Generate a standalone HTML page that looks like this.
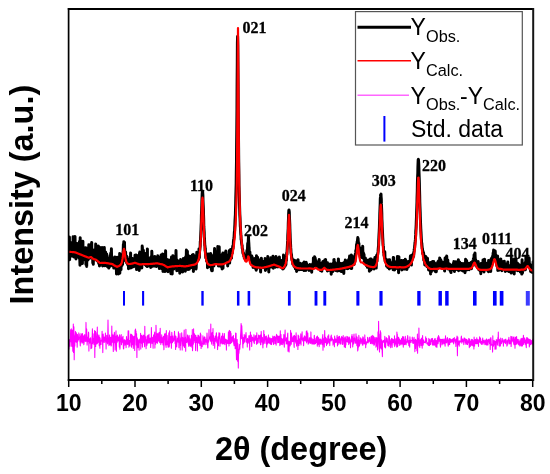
<!DOCTYPE html><html><head><meta charset="utf-8"><style>html,body{margin:0;padding:0;background:#fff;overflow:hidden}svg{display:block}</style></head><body><svg width="550" height="474" viewBox="0 0 550 474">
<rect width="550" height="474" fill="#fff"/>
<defs><clipPath id="c"><rect x="69" y="9" width="464" height="371"/></clipPath></defs>
<g clip-path="url(#c)" fill="none" stroke-linejoin="round">
<path d="M68.0,336.5L68.2,329.6 68.4,346.2 68.7,342.5 68.9,349.3 69.1,343.7 69.3,339.9 69.5,345.3 69.8,339.6 70.0,346.3 70.2,339.9 70.4,341.4 70.6,329.8 70.9,337.6 71.1,341.8 71.3,328.7 71.5,339.5 71.7,346.3 72.0,346.4 72.2,333.0 72.4,330.1 72.6,342.5 72.8,351.3 73.1,341.5 73.3,324.1 73.5,352.5 73.7,346.5 73.9,326.8 74.2,359.7 74.4,346.1 74.6,338.9 74.8,345.9 75.0,336.0 75.3,334.1 75.5,331.4 75.7,338.9 75.9,342.0 76.1,340.6 76.4,332.7 76.6,340.1 76.8,342.7 77.0,342.1 77.2,347.2 77.5,334.4 77.7,341.7 77.9,339.0 78.1,340.2 78.3,336.9 78.6,340.0 78.8,332.9 79.0,336.8 79.2,333.9 79.4,336.9 79.7,338.2 79.9,341.6 80.1,342.5 80.3,345.9 80.5,335.9 80.8,338.6 81.0,333.5 81.2,342.0 81.4,340.2 81.6,340.7 81.9,334.5 82.1,343.2 82.3,333.9 82.5,333.6 82.7,337.1 83.0,335.4 83.2,342.5 83.4,340.3 83.6,336.0 83.8,344.7 84.1,343.0 84.3,338.5 84.5,335.8 84.7,334.5 84.9,341.0 85.2,339.5 85.4,341.1 85.6,341.4 85.8,341.1 86.0,322.4 86.3,341.3 86.5,339.4 86.7,328.9 86.9,337.1 87.1,345.1 87.4,341.5 87.6,337.5 87.8,337.1 88.0,341.5 88.2,337.7 88.5,332.1 88.7,333.0 88.9,351.1 89.1,338.2 89.3,339.8 89.6,340.5 89.8,341.3 90.0,343.1 90.2,340.1 90.4,337.7 90.7,338.7 90.9,348.7 91.1,347.7 91.3,348.1 91.5,343.3 91.8,348.1 92.0,337.2 92.2,335.9 92.4,328.8 92.6,343.8 92.9,341.8 93.1,333.7 93.3,342.3 93.5,338.2 93.7,340.8 94.0,344.6 94.2,342.8 94.4,339.5 94.6,330.6 94.8,357.4 95.1,334.3 95.3,341.3 95.5,331.3 95.7,346.5 95.9,332.4 96.2,342.3 96.4,338.6 96.6,338.7 96.8,344.1 97.0,340.9 97.3,327.0 97.5,343.2 97.7,334.5 97.9,342.4 98.1,337.0 98.4,336.2 98.6,339.8 98.8,342.3 99.0,335.1 99.2,345.7 99.5,337.0 99.7,341.7 99.9,348.3 100.1,337.9 100.3,341.0 100.6,343.1 100.8,343.9 101.0,344.6 101.2,340.5 101.4,340.1 101.7,340.8 101.9,337.6 102.1,331.2 102.3,341.4 102.5,340.0 102.8,352.6 103.0,337.6 103.2,334.0 103.4,336.8 103.6,337.2 103.9,342.3 104.1,337.5 104.3,342.5 104.5,337.0 104.7,337.3 105.0,340.6 105.2,340.3 105.4,333.1 105.6,342.0 105.8,338.7 106.1,349.0 106.3,338.8 106.5,341.3 106.7,335.2 106.9,342.3 107.2,337.2 107.4,340.6 107.6,343.9 107.8,333.4 108.0,320.1 108.3,338.5 108.5,340.3 108.7,342.3 108.9,345.8 109.1,337.7 109.4,338.1 109.6,334.9 109.8,341.9 110.0,345.0 110.2,339.4 110.5,344.1 110.7,337.2 110.9,337.5 111.1,346.0 111.3,345.7 111.6,340.3 111.8,326.0 112.0,340.9 112.2,334.1 112.4,342.2 112.7,337.8 112.9,335.3 113.1,339.3 113.3,351.5 113.5,342.2 113.8,342.3 114.0,334.1 114.2,342.8 114.4,332.3 114.6,336.9 114.9,340.8 115.1,349.9 115.3,336.3 115.5,342.2 115.7,338.4 116.0,330.7 116.2,342.7 116.4,351.2 116.6,343.5 116.8,336.0 117.1,339.3 117.3,342.3 117.5,335.0 117.7,340.6 117.9,336.9 118.2,339.8 118.4,337.7 118.6,340.1 118.8,341.4 119.0,336.5 119.3,347.1 119.5,334.8 119.7,342.3 119.9,349.2 120.1,347.0 120.4,338.7 120.6,341.6 120.8,335.5 121.0,341.1 121.2,334.5 121.5,344.7 121.7,342.0 121.9,338.2 122.1,342.6 122.3,337.5 122.6,341.5 122.8,337.1 123.0,336.2 123.2,343.8 123.4,348.6 123.7,348.9 123.9,344.5 124.1,339.7 124.3,345.6 124.5,339.9 124.8,342.7 125.0,339.9 125.2,343.6 125.4,343.4 125.6,345.2 125.9,340.6 126.1,347.8 126.3,342.6 126.5,336.5 126.7,340.3 127.0,340.5 127.2,344.2 127.4,342.9 127.6,339.1 127.8,344.4 128.1,330.9 128.3,331.1 128.5,343.5 128.7,330.8 128.9,347.3 129.2,341.3 129.4,340.6 129.6,345.9 129.8,340.6 130.0,340.4 130.3,342.1 130.5,335.5 130.7,334.1 130.9,334.0 131.1,346.3 131.4,338.1 131.6,347.3 131.8,334.6 132.0,335.8 132.2,340.7 132.5,344.7 132.7,335.7 132.9,337.6 133.1,336.5 133.3,348.5 133.6,341.8 133.8,342.0 134.0,336.5 134.2,339.1 134.4,336.2 134.7,350.5 134.9,339.1 135.1,330.1 135.3,334.0 135.5,329.0 135.8,333.4 136.0,331.1 136.2,345.0 136.4,338.3 136.6,333.8 136.9,357.4 137.1,337.4 137.3,347.9 137.5,338.5 137.7,339.9 138.0,342.6 138.2,347.3 138.4,339.8 138.6,347.4 138.8,345.5 139.1,350.3 139.3,341.7 139.5,340.5 139.7,339.0 139.9,341.2 140.2,342.8 140.4,341.0 140.6,333.3 140.8,349.1 141.0,336.9 141.3,335.8 141.5,335.2 141.7,343.2 141.9,336.2 142.1,338.6 142.4,347.3 142.6,344.1 142.8,339.8 143.0,335.1 143.2,339.5 143.5,342.2 143.7,335.2 143.9,336.4 144.1,342.7 144.3,338.5 144.6,346.7 144.8,326.2 145.0,337.3 145.2,336.1 145.4,341.3 145.7,336.7 145.9,344.4 146.1,348.7 146.3,339.7 146.5,342.0 146.8,344.7 147.0,345.2 147.2,336.0 147.4,339.3 147.6,342.1 147.9,335.3 148.1,343.3 148.3,339.0 148.5,341.5 148.7,338.2 149.0,334.2 149.2,343.1 149.4,340.8 149.6,340.7 149.8,338.2 150.1,342.5 150.3,338.0 150.5,340.8 150.7,347.5 150.9,338.2 151.2,342.0 151.4,327.5 151.6,341.4 151.8,338.9 152.0,343.6 152.3,337.2 152.5,338.3 152.7,338.8 152.9,340.8 153.1,348.2 153.4,339.1 153.6,334.9 153.8,339.7 154.0,341.8 154.2,339.0 154.5,333.5 154.7,332.1 154.9,348.1 155.1,336.2 155.3,342.1 155.6,344.3 155.8,344.0 156.0,325.2 156.2,332.5 156.4,333.6 156.7,342.5 156.9,337.4 157.1,333.8 157.3,342.5 157.5,343.3 157.8,339.9 158.0,333.4 158.2,341.3 158.4,335.6 158.6,339.0 158.9,341.0 159.1,332.2 159.3,338.7 159.5,339.4 159.7,342.8 160.0,340.3 160.2,328.2 160.4,336.1 160.6,339.8 160.8,344.6 161.1,337.4 161.3,337.0 161.5,341.9 161.7,334.8 161.9,342.7 162.2,336.9 162.4,340.7 162.6,341.4 162.8,341.7 163.0,344.9 163.3,338.8 163.5,336.3 163.7,339.9 163.9,349.7 164.1,344.9 164.4,335.4 164.6,334.2 164.8,339.0 165.0,333.3 165.2,333.9 165.5,345.0 165.7,344.8 165.9,344.3 166.1,347.5 166.3,330.6 166.6,340.7 166.8,337.0 167.0,344.7 167.2,335.4 167.4,341.9 167.7,343.9 167.9,344.5 168.1,347.3 168.3,346.9 168.5,340.6 168.8,332.9 169.0,341.9 169.2,346.9 169.4,345.5 169.6,330.8 169.9,335.7 170.1,343.0 170.3,342.6 170.5,340.5 170.7,340.6 171.0,336.4 171.2,342.4 171.4,348.2 171.6,340.4 171.8,332.3 172.1,336.9 172.3,342.4 172.5,342.6 172.7,336.6 172.9,336.1 173.2,340.9 173.4,341.3 173.6,340.8 173.8,340.0 174.0,339.9 174.3,336.8 174.5,331.3 174.7,334.3 174.9,338.2 175.1,343.6 175.4,335.9 175.6,349.4 175.8,339.3 176.0,336.4 176.2,343.5 176.5,345.6 176.7,346.9 176.9,344.0 177.1,342.6 177.3,338.5 177.6,340.9 177.8,341.5 178.0,336.9 178.2,342.1 178.4,331.7 178.7,337.0 178.9,347.7 179.1,340.3 179.3,342.1 179.5,341.8 179.8,341.4 180.0,333.5 180.2,350.0 180.4,337.8 180.6,345.7 180.9,341.3 181.1,340.7 181.3,338.9 181.5,339.8 181.7,332.7 182.0,338.4 182.2,350.1 182.4,343.2 182.6,337.4 182.8,338.2 183.1,337.8 183.3,339.2 183.5,346.0 183.7,342.3 183.9,337.6 184.2,330.1 184.4,347.6 184.6,345.1 184.8,339.8 185.0,341.7 185.3,338.2 185.5,337.0 185.7,351.2 185.9,329.3 186.1,338.7 186.4,342.0 186.6,342.5 186.8,340.2 187.0,338.9 187.2,341.5 187.5,335.1 187.7,335.1 187.9,342.8 188.1,336.6 188.3,343.3 188.6,345.2 188.8,346.5 189.0,345.3 189.2,335.4 189.4,340.4 189.7,340.0 189.9,344.9 190.1,338.8 190.3,346.2 190.5,340.8 190.8,346.2 191.0,340.7 191.2,340.6 191.4,335.3 191.6,338.4 191.9,347.2 192.1,347.0 192.3,329.5 192.5,350.8 192.7,347.9 193.0,336.9 193.2,343.5 193.4,344.3 193.6,328.8 193.8,339.4 194.1,340.7 194.3,339.2 194.5,333.8 194.7,339.5 194.9,342.6 195.2,342.0 195.4,335.2 195.6,350.6 195.8,335.3 196.0,337.2 196.3,342.5 196.5,337.7 196.7,337.4 196.9,337.8 197.1,339.6 197.4,351.0 197.6,338.9 197.8,337.8 198.0,335.0 198.2,340.7 198.5,342.8 198.7,335.5 198.9,337.5 199.1,343.4 199.3,336.7 199.6,337.5 199.8,343.7 200.0,345.6 200.2,339.3 200.4,333.1 200.7,340.5 200.9,334.6 201.1,348.4 201.3,340.7 201.5,343.4 201.8,344.6 202.0,346.3 202.2,346.8 202.4,343.0 202.6,344.0 202.9,335.7 203.1,341.6 203.3,337.9 203.5,340.8 203.7,344.6 204.0,339.6 204.2,337.0 204.4,344.3 204.6,338.9 204.8,336.9 205.1,338.7 205.3,342.0 205.5,339.2 205.7,340.5 205.9,344.6 206.2,342.1 206.4,342.2 206.6,340.0 206.8,337.7 207.0,333.0 207.3,339.2 207.5,344.9 207.7,348.0 207.9,347.9 208.1,340.2 208.4,342.3 208.6,341.3 208.8,338.3 209.0,329.6 209.2,338.0 209.5,337.0 209.7,338.6 209.9,339.3 210.1,336.9 210.3,341.0 210.6,337.1 210.8,324.0 211.0,341.6 211.2,339.6 211.4,341.7 211.7,344.3 211.9,333.4 212.1,332.5 212.3,334.5 212.5,340.9 212.8,334.1 213.0,328.5 213.2,345.5 213.4,335.2 213.6,337.5 213.9,341.6 214.1,343.8 214.3,340.6 214.5,338.3 214.7,348.3 215.0,338.6 215.2,336.1 215.4,341.0 215.6,337.2 215.8,341.3 216.1,336.0 216.3,333.1 216.5,332.9 216.7,340.7 216.9,342.9 217.2,340.8 217.4,339.8 217.6,349.6 217.8,340.2 218.0,336.7 218.3,340.1 218.5,345.7 218.7,337.9 218.9,332.8 219.1,338.6 219.4,334.6 219.6,338.8 219.8,333.1 220.0,346.3 220.2,339.7 220.5,342.6 220.7,340.0 220.9,343.3 221.1,338.7 221.3,338.0 221.6,336.0 221.8,337.3 222.0,343.4 222.2,344.1 222.4,337.6 222.7,333.3 222.9,343.6 223.1,336.1 223.3,336.8 223.5,338.7 223.8,344.0 224.0,341.4 224.2,338.7 224.4,333.6 224.6,340.0 224.9,344.7 225.1,340.6 225.3,342.8 225.5,340.4 225.7,339.0 226.0,340.7 226.2,340.1 226.4,350.1 226.6,341.0 226.8,339.8 227.1,340.2 227.3,341.2 227.5,341.3 227.7,343.6 227.9,343.5 228.2,341.2 228.4,331.9 228.6,343.6 228.8,341.3 229.0,346.1 229.3,330.4 229.5,343.4 229.7,330.8 229.9,340.4 230.1,338.8 230.4,343.8 230.6,331.6 230.8,343.2 231.0,333.3 231.2,338.2 231.5,337.4 231.7,342.4 231.9,338.2 232.1,340.6 232.3,336.8 232.6,338.2 232.8,336.6 233.0,341.7 233.2,337.9 233.4,335.4 233.7,344.0 233.9,341.4 234.1,345.8 234.3,341.4 234.5,342.2 234.8,338.6 235.0,342.1 235.2,348.7 235.4,345.0 235.6,333.1 235.9,346.5 236.1,333.3 236.3,352.8 236.5,359.8 236.7,350.9 237.0,350.3 237.2,339.6 237.4,350.4 237.6,361.2 237.8,343.4 238.1,353.3 238.3,368.1 238.5,356.0 238.7,349.4 238.9,353.5 239.2,349.3 239.4,344.5 239.6,345.2 239.8,349.3 240.0,344.8 240.3,344.5 240.5,335.7 240.7,333.0 240.9,329.4 241.1,323.5 241.4,327.5 241.6,338.8 241.8,325.7 242.0,331.0 242.2,334.3 242.5,339.2 242.7,344.1 242.9,347.9 243.1,337.4 243.3,339.7 243.6,343.8 243.8,338.0 244.0,342.4 244.2,334.6 244.4,341.7 244.7,339.7 244.9,342.0 245.1,335.9 245.3,337.0 245.5,338.0 245.8,334.7 246.0,332.6 246.2,335.6 246.4,342.3 246.6,339.2 246.9,341.1 247.1,339.8 247.3,346.9 247.5,338.4 247.7,339.6 248.0,343.4 248.2,340.5 248.4,341.2 248.6,342.2 248.8,336.4 249.1,335.5 249.3,337.6 249.5,343.7 249.7,350.1 249.9,336.0 250.2,341.6 250.4,332.0 250.6,339.5 250.8,341.5 251.0,340.5 251.3,335.1 251.5,338.7 251.7,346.4 251.9,340.7 252.1,337.6 252.4,340.8 252.6,337.0 252.8,338.4 253.0,339.0 253.2,339.9 253.5,338.8 253.7,342.3 253.9,334.7 254.1,335.7 254.3,343.6 254.6,338.4 254.8,339.5 255.0,338.2 255.2,338.2 255.4,335.8 255.7,340.4 255.9,339.9 256.1,336.5 256.3,335.2 256.5,344.2 256.8,332.7 257.0,343.7 257.2,337.8 257.4,338.6 257.6,341.1 257.9,343.1 258.1,340.7 258.3,342.2 258.5,335.1 258.7,335.2 259.0,336.1 259.2,338.7 259.4,336.2 259.6,335.9 259.8,342.8 260.1,339.4 260.3,335.1 260.5,344.8 260.7,344.8 260.9,344.5 261.2,331.4 261.4,335.3 261.6,335.9 261.8,340.7 262.0,342.2 262.3,342.0 262.5,337.6 262.7,344.1 262.9,347.9 263.1,340.5 263.4,344.3 263.6,340.6 263.8,330.5 264.0,337.7 264.2,338.8 264.5,334.6 264.7,343.3 264.9,337.9 265.1,336.3 265.3,336.7 265.6,339.5 265.8,339.0 266.0,340.4 266.2,343.8 266.4,336.0 266.7,347.2 266.9,338.7 267.1,344.9 267.3,340.3 267.5,342.3 267.8,337.5 268.0,343.4 268.2,340.0 268.4,334.9 268.6,339.0 268.9,336.9 269.1,342.4 269.3,338.1 269.5,343.2 269.7,342.8 270.0,342.3 270.2,338.1 270.4,344.3 270.6,339.8 270.8,339.5 271.1,344.0 271.3,338.5 271.5,344.6 271.7,343.2 271.9,342.5 272.2,339.9 272.4,338.1 272.6,341.8 272.8,336.0 273.0,341.2 273.3,336.9 273.5,344.5 273.7,340.6 273.9,343.9 274.1,336.5 274.4,340.2 274.6,337.9 274.8,339.5 275.0,336.0 275.2,343.6 275.5,337.2 275.7,341.8 275.9,342.2 276.1,345.2 276.3,342.4 276.6,334.2 276.8,337.4 277.0,335.8 277.2,335.6 277.4,336.4 277.7,342.8 277.9,342.6 278.1,341.3 278.3,336.3 278.5,338.3 278.8,342.4 279.0,341.2 279.2,336.1 279.4,340.7 279.6,340.4 279.9,345.7 280.1,339.2 280.3,330.8 280.5,341.4 280.7,344.2 281.0,334.6 281.2,343.4 281.4,344.4 281.6,341.0 281.8,338.4 282.1,340.5 282.3,339.2 282.5,341.3 282.7,344.7 282.9,341.1 283.2,338.6 283.4,342.9 283.6,339.4 283.8,334.6 284.0,341.5 284.3,347.2 284.5,338.8 284.7,341.2 284.9,334.9 285.1,330.1 285.4,340.1 285.6,340.6 285.8,341.2 286.0,339.6 286.2,344.0 286.5,337.7 286.7,339.5 286.9,341.4 287.1,343.9 287.3,341.1 287.6,333.9 287.8,333.1 288.0,351.2 288.2,344.0 288.4,341.0 288.7,346.9 288.9,343.4 289.1,351.9 289.3,342.6 289.5,341.8 289.8,341.2 290.0,342.7 290.2,345.9 290.4,341.8 290.6,330.4 290.9,338.4 291.1,334.4 291.3,344.3 291.5,333.1 291.7,338.4 292.0,336.9 292.2,341.7 292.4,341.2 292.6,341.4 292.8,338.1 293.1,339.3 293.3,335.9 293.5,341.4 293.7,338.0 293.9,344.2 294.2,347.5 294.4,335.2 294.6,340.2 294.8,336.1 295.0,336.4 295.3,341.0 295.5,342.0 295.7,339.4 295.9,343.2 296.1,332.8 296.4,338.5 296.6,346.1 296.8,342.3 297.0,340.5 297.2,343.0 297.5,343.3 297.7,339.9 297.9,349.5 298.1,335.1 298.3,336.3 298.6,340.9 298.8,336.1 299.0,345.6 299.2,340.2 299.4,343.7 299.7,340.7 299.9,338.8 300.1,339.6 300.3,343.3 300.5,339.5 300.8,333.8 301.0,345.0 301.2,339.2 301.4,339.5 301.6,339.7 301.9,337.2 302.1,331.7 302.3,338.5 302.5,338.2 302.7,340.9 303.0,340.8 303.2,338.9 303.4,337.8 303.6,345.8 303.8,341.8 304.1,340.3 304.3,335.7 304.5,338.4 304.7,340.4 304.9,336.7 305.2,337.7 305.4,336.9 305.6,339.5 305.8,341.3 306.0,339.7 306.3,331.4 306.5,341.5 306.7,343.0 306.9,330.8 307.1,336.9 307.4,339.3 307.6,341.3 307.8,332.9 308.0,338.9 308.2,344.3 308.5,340.1 308.7,340.7 308.9,343.3 309.1,342.4 309.3,337.9 309.6,340.9 309.8,337.8 310.0,341.9 310.2,342.6 310.4,343.5 310.7,341.6 310.9,331.9 311.1,340.0 311.3,337.6 311.5,342.7 311.8,344.0 312.0,341.3 312.2,338.8 312.4,341.9 312.6,343.0 312.9,344.1 313.1,343.8 313.3,339.6 313.5,341.0 313.7,340.5 314.0,344.3 314.2,335.6 314.4,335.4 314.6,344.0 314.8,344.0 315.1,342.6 315.3,340.0 315.5,343.6 315.7,340.2 315.9,338.4 316.2,342.5 316.4,336.8 316.6,341.5 316.8,339.6 317.0,340.8 317.3,346.2 317.5,336.0 317.7,341.5 317.9,344.3 318.1,343.3 318.4,341.8 318.6,337.6 318.8,344.8 319.0,339.1 319.2,346.8 319.5,340.5 319.7,343.7 319.9,343.4 320.1,338.9 320.3,340.3 320.6,344.2 320.8,339.2 321.0,343.1 321.2,339.7 321.4,342.6 321.7,341.1 321.9,341.3 322.1,344.7 322.3,337.8 322.5,337.5 322.8,334.6 323.0,350.2 323.2,339.2 323.4,344.1 323.6,339.5 323.9,339.0 324.1,338.0 324.3,347.1 324.5,338.0 324.7,330.6 325.0,341.8 325.2,342.4 325.4,341.7 325.6,337.3 325.8,340.8 326.1,343.2 326.3,338.3 326.5,345.6 326.7,338.9 326.9,342.1 327.2,341.2 327.4,339.6 327.6,343.9 327.8,336.1 328.0,340.4 328.3,336.8 328.5,342.0 328.7,334.8 328.9,342.7 329.1,338.6 329.4,343.5 329.6,339.4 329.8,345.6 330.0,339.9 330.2,339.5 330.5,338.7 330.7,339.3 330.9,336.0 331.1,341.1 331.3,335.1 331.6,340.2 331.8,338.9 332.0,339.4 332.2,337.9 332.4,339.6 332.7,340.1 332.9,341.1 333.1,345.1 333.3,339.5 333.5,342.8 333.8,343.3 334.0,343.1 334.2,339.9 334.4,346.8 334.6,336.1 334.9,338.8 335.1,341.6 335.3,338.5 335.5,341.0 335.7,342.6 336.0,340.4 336.2,339.6 336.4,342.1 336.6,339.5 336.8,338.8 337.1,335.2 337.3,342.6 337.5,345.9 337.7,337.5 337.9,338.7 338.2,344.6 338.4,336.7 338.6,337.5 338.8,342.1 339.0,340.7 339.3,342.6 339.5,336.2 339.7,342.9 339.9,338.5 340.1,344.1 340.4,343.1 340.6,339.0 340.8,344.0 341.0,340.0 341.2,337.5 341.5,339.3 341.7,336.4 341.9,339.9 342.1,337.6 342.3,344.2 342.6,337.4 342.8,344.5 343.0,342.9 343.2,335.6 343.4,340.2 343.7,339.8 343.9,338.8 344.1,340.1 344.3,346.9 344.5,340.2 344.8,337.0 345.0,337.9 345.2,339.1 345.4,347.6 345.6,339.1 345.9,345.1 346.1,336.2 346.3,339.2 346.5,339.4 346.7,339.3 347.0,341.5 347.2,341.9 347.4,340.2 347.6,336.6 347.8,341.2 348.1,340.5 348.3,342.7 348.5,337.9 348.7,344.6 348.9,341.6 349.2,336.9 349.4,343.2 349.6,337.6 349.8,338.5 350.0,339.8 350.3,341.5 350.5,347.7 350.7,340.0 350.9,342.3 351.1,342.1 351.4,339.9 351.6,336.1 351.8,340.9 352.0,334.5 352.2,341.8 352.5,336.4 352.7,347.0 352.9,343.7 353.1,338.8 353.3,343.2 353.6,343.9 353.8,336.3 354.0,334.1 354.2,339.3 354.4,340.7 354.7,338.1 354.9,341.1 355.1,343.3 355.3,343.2 355.5,341.8 355.8,343.0 356.0,333.7 356.2,338.0 356.4,336.5 356.6,342.1 356.9,345.8 357.1,337.0 357.3,340.0 357.5,343.5 357.7,350.9 358.0,349.3 358.2,345.2 358.4,339.5 358.6,346.9 358.8,335.3 359.1,338.1 359.3,341.0 359.5,345.9 359.7,340.3 359.9,340.5 360.2,344.0 360.4,342.5 360.6,337.8 360.8,339.7 361.0,341.2 361.3,341.9 361.5,340.3 361.7,343.4 361.9,338.9 362.1,339.6 362.4,345.1 362.6,339.9 362.8,336.7 363.0,345.0 363.2,337.1 363.5,339.1 363.7,341.7 363.9,343.3 364.1,343.3 364.3,343.9 364.6,343.3 364.8,334.9 365.0,341.1 365.2,340.1 365.4,339.3 365.7,347.8 365.9,343.6 366.1,341.8 366.3,344.5 366.5,342.6 366.8,342.8 367.0,341.7 367.2,342.8 367.4,341.6 367.6,337.2 367.9,341.8 368.1,342.9 368.3,341.2 368.5,340.3 368.7,341.7 369.0,340.9 369.2,337.7 369.4,340.9 369.6,338.8 369.8,337.3 370.1,342.2 370.3,341.8 370.5,343.6 370.7,340.2 370.9,342.4 371.2,336.2 371.4,342.7 371.6,338.7 371.8,343.7 372.0,339.0 372.3,335.2 372.5,340.9 372.7,336.7 372.9,343.9 373.1,337.5 373.4,341.2 373.6,336.1 373.8,342.1 374.0,345.4 374.2,340.0 374.5,344.4 374.7,339.6 374.9,337.4 375.1,339.9 375.3,339.0 375.6,341.8 375.8,343.0 376.0,347.1 376.2,337.4 376.4,340.6 376.7,346.0 376.9,339.4 377.1,338.1 377.3,341.8 377.5,349.9 377.8,342.6 378.0,331.7 378.2,338.9 378.4,337.6 378.6,321.2 378.9,342.9 379.1,348.8 379.3,349.0 379.5,352.1 379.7,347.2 380.0,334.1 380.2,338.1 380.4,330.8 380.6,347.9 380.8,332.5 381.1,345.4 381.3,348.2 381.5,349.0 381.7,339.7 381.9,341.3 382.2,352.8 382.4,356.6 382.6,343.4 382.8,341.9 383.0,341.0 383.3,340.5 383.5,342.1 383.7,342.2 383.9,342.2 384.1,341.3 384.4,339.5 384.6,347.1 384.8,336.3 385.0,338.9 385.2,343.2 385.5,347.9 385.7,346.5 385.9,343.0 386.1,342.8 386.3,337.6 386.6,340.4 386.8,341.4 387.0,341.9 387.2,338.6 387.4,340.2 387.7,343.9 387.9,345.6 388.1,343.0 388.3,343.6 388.5,345.5 388.8,335.5 389.0,346.7 389.2,341.1 389.4,336.4 389.6,342.1 389.9,343.3 390.1,339.6 390.3,344.7 390.5,343.8 390.7,347.8 391.0,341.1 391.2,341.3 391.4,339.8 391.6,338.2 391.8,342.3 392.1,347.4 392.3,343.4 392.5,338.9 392.7,341.6 392.9,339.3 393.2,342.7 393.4,340.5 393.6,339.8 393.8,339.7 394.0,341.4 394.3,345.3 394.5,335.7 394.7,346.6 394.9,342.3 395.1,345.3 395.4,343.8 395.6,342.9 395.8,338.9 396.0,338.8 396.2,343.5 396.5,342.8 396.7,347.1 396.9,332.1 397.1,339.5 397.3,333.9 397.6,346.8 397.8,339.2 398.0,337.1 398.2,343.1 398.4,343.3 398.7,337.6 398.9,339.2 399.1,340.6 399.3,345.5 399.5,339.0 399.8,341.0 400.0,344.0 400.2,341.5 400.4,340.1 400.6,341.5 400.9,344.9 401.1,341.2 401.3,344.1 401.5,338.4 401.7,340.4 402.0,339.4 402.2,344.1 402.4,338.1 402.6,336.5 402.8,342.5 403.1,344.3 403.3,347.2 403.5,336.7 403.7,337.6 403.9,344.8 404.2,343.0 404.4,339.9 404.6,342.0 404.8,344.4 405.0,342.9 405.3,336.2 405.5,341.2 405.7,341.8 405.9,344.4 406.1,344.7 406.4,341.6 406.6,342.8 406.8,340.2 407.0,338.9 407.2,341.9 407.5,337.3 407.7,335.5 407.9,337.5 408.1,342.9 408.3,341.5 408.6,341.0 408.8,345.6 409.0,342.3 409.2,340.4 409.4,344.7 409.7,347.2 409.9,336.8 410.1,339.5 410.3,339.7 410.5,342.1 410.8,341.0 411.0,342.6 411.2,341.2 411.4,340.5 411.6,340.6 411.9,340.6 412.1,339.8 412.3,337.0 412.5,339.8 412.7,343.1 413.0,339.8 413.2,342.8 413.4,343.5 413.6,341.2 413.8,338.7 414.1,337.3 414.3,342.2 414.5,340.5 414.7,347.1 414.9,351.7 415.2,344.3 415.4,339.4 415.6,348.5 415.8,339.3 416.0,343.6 416.3,340.2 416.5,341.3 416.7,342.1 416.9,350.7 417.1,350.0 417.4,334.0 417.6,353.2 417.8,338.2 418.0,346.3 418.2,342.1 418.5,341.5 418.7,341.7 418.9,328.1 419.1,335.3 419.3,346.0 419.6,339.7 419.8,347.6 420.0,340.4 420.2,341.9 420.4,343.6 420.7,339.2 420.9,339.2 421.1,345.4 421.3,340.8 421.5,338.1 421.8,339.6 422.0,344.9 422.2,348.2 422.4,339.7 422.6,335.5 422.9,344.0 423.1,345.3 423.3,343.7 423.5,340.7 423.7,339.9 424.0,342.5 424.2,341.5 424.4,342.6 424.6,342.1 424.8,342.4 425.1,341.7 425.3,342.9 425.5,342.3 425.7,336.7 425.9,341.5 426.2,339.8 426.4,340.7 426.6,338.5 426.8,343.6 427.0,343.2 427.3,344.1 427.5,342.7 427.7,342.9 427.9,343.0 428.1,344.8 428.4,345.5 428.6,343.8 428.8,338.4 429.0,343.6 429.2,341.1 429.5,345.8 429.7,342.9 429.9,339.2 430.1,342.7 430.3,340.4 430.6,344.6 430.8,341.7 431.0,341.2 431.2,341.5 431.4,338.6 431.7,341.8 431.9,340.9 432.1,341.8 432.3,344.4 432.5,338.4 432.8,341.3 433.0,345.5 433.2,341.1 433.4,340.6 433.6,342.1 433.9,344.7 434.1,341.8 434.3,344.6 434.5,338.9 434.7,345.2 435.0,340.8 435.2,338.6 435.4,344.3 435.6,339.9 435.8,346.8 436.1,342.2 436.3,340.5 436.5,346.0 436.7,343.6 436.9,347.5 437.2,341.8 437.4,338.3 437.6,342.7 437.8,337.0 438.0,343.8 438.3,341.8 438.5,335.5 438.7,341.2 438.9,339.2 439.1,336.8 439.4,339.2 439.6,339.4 439.8,341.9 440.0,339.1 440.2,344.8 440.5,347.3 440.7,343.1 440.9,339.4 441.1,341.5 441.3,341.6 441.6,339.3 441.8,340.9 442.0,344.9 442.2,339.5 442.4,343.9 442.7,341.0 442.9,339.0 443.1,340.8 443.3,343.9 443.5,341.4 443.8,340.0 444.0,341.0 444.2,338.9 444.4,342.1 444.6,344.0 444.9,344.3 445.1,346.3 445.3,343.3 445.5,335.8 445.7,342.6 446.0,338.0 446.2,340.5 446.4,339.7 446.6,342.9 446.8,341.5 447.1,340.4 447.3,341.8 447.5,337.5 447.7,339.0 447.9,343.2 448.2,346.3 448.4,340.0 448.6,344.9 448.8,341.0 449.0,344.6 449.3,338.5 449.5,342.2 449.7,344.6 449.9,338.5 450.1,341.6 450.4,339.1 450.6,340.7 450.8,342.5 451.0,340.7 451.2,339.9 451.5,342.0 451.7,339.6 451.9,340.6 452.1,339.6 452.3,342.1 452.6,339.5 452.8,339.1 453.0,339.0 453.2,338.5 453.4,342.5 453.7,344.0 453.9,341.1 454.1,338.4 454.3,337.5 454.5,340.3 454.8,340.4 455.0,341.5 455.2,341.3 455.4,342.9 455.6,339.4 455.9,346.5 456.1,338.9 456.3,340.7 456.5,341.1 456.7,339.5 457.0,336.1 457.2,344.3 457.4,355.7 457.6,344.4 457.8,337.0 458.1,341.6 458.3,340.9 458.5,344.6 458.7,341.9 458.9,341.1 459.2,346.2 459.4,342.6 459.6,340.7 459.8,342.3 460.0,342.6 460.3,341.7 460.5,341.5 460.7,340.7 460.9,341.4 461.1,338.1 461.4,336.1 461.6,341.0 461.8,343.3 462.0,340.5 462.2,339.6 462.5,341.7 462.7,338.9 462.9,339.0 463.1,340.5 463.3,341.8 463.6,341.5 463.8,344.7 464.0,340.7 464.2,337.8 464.4,338.9 464.7,339.9 464.9,341.0 465.1,338.4 465.3,342.9 465.5,342.8 465.8,339.5 466.0,344.5 466.2,341.2 466.4,339.2 466.6,340.2 466.9,339.8 467.1,344.1 467.3,340.0 467.5,344.6 467.7,342.6 468.0,341.5 468.2,342.8 468.4,341.1 468.6,340.6 468.8,338.4 469.1,344.0 469.3,347.8 469.5,339.1 469.7,341.7 469.9,340.7 470.2,346.5 470.4,345.8 470.6,341.5 470.8,345.1 471.0,341.9 471.3,339.2 471.5,342.6 471.7,342.9 471.9,345.5 472.1,340.4 472.4,339.6 472.6,342.6 472.8,343.3 473.0,346.0 473.2,342.7 473.5,340.5 473.7,341.9 473.9,349.0 474.1,337.0 474.3,341.7 474.6,346.1 474.8,342.2 475.0,339.6 475.2,340.3 475.4,343.8 475.7,339.4 475.9,342.4 476.1,341.9 476.3,343.4 476.5,343.8 476.8,337.8 477.0,342.4 477.2,343.6 477.4,341.6 477.6,339.6 477.9,341.5 478.1,343.2 478.3,344.1 478.5,346.4 478.7,340.9 479.0,339.3 479.2,339.3 479.4,342.3 479.6,336.8 479.8,338.3 480.1,342.4 480.3,342.5 480.5,338.0 480.7,343.3 480.9,342.0 481.2,343.6 481.4,344.4 481.6,341.5 481.8,341.9 482.0,343.0 482.3,339.2 482.5,343.1 482.7,338.0 482.9,344.5 483.1,343.2 483.4,340.2 483.6,341.8 483.8,340.5 484.0,342.7 484.2,340.1 484.5,341.2 484.7,342.5 484.9,344.8 485.1,341.6 485.3,344.1 485.6,340.0 485.8,341.3 486.0,343.8 486.2,344.8 486.4,338.9 486.7,341.6 486.9,345.1 487.1,342.8 487.3,339.9 487.5,342.8 487.8,340.6 488.0,345.1 488.2,339.9 488.4,339.3 488.6,342.1 488.9,341.8 489.1,341.9 489.3,339.9 489.5,343.6 489.7,341.6 490.0,338.8 490.2,349.5 490.4,342.4 490.6,340.6 490.8,337.6 491.1,339.6 491.3,345.3 491.5,345.0 491.7,344.3 491.9,344.6 492.2,344.9 492.4,344.9 492.6,352.1 492.8,335.7 493.0,345.9 493.3,340.6 493.5,346.1 493.7,343.1 493.9,343.9 494.1,340.2 494.4,341.5 494.6,344.9 494.8,341.5 495.0,349.3 495.2,348.2 495.5,341.3 495.7,343.6 495.9,342.9 496.1,349.1 496.3,339.6 496.6,340.9 496.8,340.7 497.0,340.8 497.2,340.0 497.4,345.1 497.7,341.2 497.9,337.3 498.1,340.3 498.3,332.1 498.5,340.6 498.8,340.9 499.0,345.6 499.2,339.9 499.4,339.3 499.6,342.5 499.9,346.7 500.1,341.1 500.3,340.2 500.5,345.4 500.7,338.0 501.0,341.9 501.2,341.0 501.4,343.6 501.6,343.2 501.8,341.6 502.1,341.1 502.3,338.4 502.5,341.2 502.7,340.7 502.9,342.1 503.2,342.4 503.4,346.1 503.6,343.0 503.8,339.8 504.0,342.6 504.3,340.4 504.5,342.2 504.7,339.7 504.9,340.6 505.1,339.7 505.4,343.7 505.6,340.0 505.8,339.1 506.0,341.7 506.2,339.9 506.5,342.0 506.7,342.7 506.9,346.2 507.1,345.4 507.3,345.1 507.6,340.3 507.8,343.3 508.0,339.8 508.2,340.8 508.4,340.6 508.7,339.2 508.9,337.2 509.1,344.1 509.3,342.1 509.5,340.0 509.8,342.6 510.0,341.4 510.2,343.8 510.4,341.1 510.6,343.2 510.9,336.3 511.1,346.6 511.3,343.7 511.5,340.5 511.7,339.1 512.0,336.6 512.2,340.8 512.4,340.3 512.6,341.2 512.8,341.1 513.1,342.0 513.3,337.5 513.5,337.5 513.7,343.9 513.9,336.7 514.2,344.8 514.4,338.9 514.6,341.0 514.8,339.0 515.0,348.2 515.3,337.5 515.5,339.3 515.7,342.9 515.9,344.4 516.1,336.9 516.4,339.6 516.6,336.5 516.8,344.0 517.0,343.3 517.2,341.4 517.5,339.2 517.7,341.8 517.9,341.4 518.1,342.5 518.3,344.1 518.6,344.6 518.8,339.4 519.0,340.7 519.2,345.0 519.4,344.0 519.7,341.7 519.9,346.0 520.1,344.8 520.3,340.6 520.5,344.3 520.8,339.3 521.0,338.8 521.2,346.1 521.4,343.4 521.6,346.0 521.9,338.3 522.1,340.8 522.3,340.2 522.5,346.0 522.7,343.6 523.0,338.1 523.2,339.7 523.4,335.2 523.6,338.9 523.8,344.5 524.1,341.5 524.3,338.1 524.5,342.4 524.7,338.0 524.9,340.6 525.2,339.5 525.4,344.2 525.6,342.9 525.8,340.6 526.0,345.3 526.3,347.8 526.5,339.7 526.7,337.5 526.9,342.6 527.1,343.1 527.4,337.7 527.6,339.0 527.8,339.8 528.0,343.4 528.2,342.6 528.5,338.8 528.7,339.7 528.9,339.2 529.1,342.0 529.3,346.9 529.6,345.4 529.8,344.0 530.0,339.2 530.2,344.5 530.4,340.2 530.7,340.1 530.9,344.6 531.1,341.5 531.3,343.8 531.5,343.4 531.8,340.5 532.0,342.4 532.2,343.4 532.4,341.8 532.6,339.2 532.9,345.0 533.1,340.7 533.3,340.2 533.5,340.7 533.7,344.2 534.0,339.3" stroke="#ff00ff" stroke-width="1.05"/>
<path d="M68.0,252.4L68.2,258.8 68.3,258.1 68.5,249.6 68.6,250.7 68.8,249.6 69.0,254.9 69.1,251.8 69.3,255.7 69.4,237.1 69.6,259.7 69.8,251.6 69.9,255.4 70.1,251.4 70.2,250.2 70.4,254.3 70.6,256.1 70.7,251.0 70.9,251.3 71.0,255.3 71.2,247.7 71.4,244.6 71.5,253.9 71.7,248.7 71.8,242.5 72.0,248.0 72.2,249.6 72.3,246.1 72.5,244.6 72.6,252.1 72.8,256.3 73.0,250.7 73.1,236.8 73.3,253.8 73.4,255.4 73.6,250.4 73.8,254.5 73.9,257.0 74.1,250.8 74.2,247.8 74.4,239.4 74.6,253.0 74.7,257.2 74.9,245.4 75.0,236.6 75.2,247.7 75.4,243.3 75.5,252.5 75.7,254.6 75.8,248.3 76.0,258.9 76.2,256.1 76.3,255.2 76.5,254.1 76.6,256.9 76.8,245.6 77.0,255.3 77.1,255.3 77.3,243.5 77.4,254.1 77.6,251.2 77.8,256.4 77.9,250.3 78.1,252.4 78.2,254.3 78.4,248.3 78.6,255.7 78.7,252.1 78.9,255.2 79.0,250.2 79.2,258.2 79.4,255.8 79.5,241.4 79.7,256.1 79.8,259.3 80.0,265.3 80.2,237.8 80.3,257.5 80.5,255.5 80.6,252.7 80.8,248.3 81.0,259.5 81.1,247.1 81.3,256.2 81.4,259.8 81.6,245.6 81.8,252.0 81.9,247.2 82.1,254.8 82.2,261.0 82.4,263.6 82.6,245.1 82.7,251.1 82.9,241.3 83.0,253.5 83.2,256.0 83.4,250.4 83.5,255.4 83.7,253.9 83.8,253.1 84.0,250.6 84.2,256.0 84.3,255.7 84.5,253.8 84.6,253.3 84.8,248.3 85.0,252.1 85.1,260.1 85.3,253.6 85.4,247.7 85.6,260.8 85.8,257.1 85.9,264.5 86.1,254.9 86.2,252.6 86.4,248.0 86.6,260.9 86.7,266.4 86.9,251.0 87.0,251.9 87.2,257.7 87.4,251.1 87.5,253.7 87.7,253.3 87.8,255.8 88.0,259.9 88.2,255.0 88.3,258.9 88.5,252.8 88.6,255.9 88.8,244.8 89.0,247.5 89.1,257.6 89.3,251.0 89.4,255.9 89.6,255.2 89.8,258.2 89.9,255.4 90.1,255.7 90.2,250.3 90.4,247.1 90.6,246.5 90.7,247.2 90.9,244.4 91.0,246.9 91.2,249.1 91.4,250.7 91.5,248.6 91.7,242.4 91.8,251.1 92.0,252.8 92.2,257.2 92.3,255.5 92.5,250.8 92.6,250.9 92.8,262.9 93.0,257.8 93.1,262.7 93.3,264.3 93.4,251.8 93.6,257.1 93.8,257.6 93.9,258.1 94.1,258.1 94.2,256.8 94.4,256.7 94.6,249.8 94.7,255.4 94.9,253.1 95.0,256.7 95.2,254.4 95.4,258.9 95.5,259.7 95.7,244.0 95.8,257.7 96.0,256.8 96.2,254.7 96.3,256.0 96.5,254.8 96.6,258.5 96.8,257.1 97.0,246.7 97.1,251.8 97.3,261.0 97.4,254.3 97.6,254.6 97.8,256.9 97.9,255.5 98.1,259.0 98.2,255.7 98.4,246.1 98.6,254.8 98.7,263.5 98.9,258.5 99.0,253.8 99.2,258.7 99.4,252.5 99.5,265.9 99.7,247.2 99.8,260.9 100.0,261.3 100.2,247.4 100.3,260.3 100.5,263.1 100.6,261.0 100.8,260.2 101.0,262.9 101.1,259.9 101.3,260.5 101.4,258.7 101.6,261.7 101.8,255.5 101.9,262.3 102.1,257.2 102.2,247.5 102.4,260.7 102.6,265.9 102.7,263.0 102.9,257.2 103.0,262.0 103.2,257.5 103.4,258.8 103.5,259.6 103.7,250.2 103.8,260.0 104.0,255.2 104.2,256.6 104.3,247.5 104.5,253.4 104.6,255.6 104.8,262.5 105.0,265.8 105.1,259.2 105.3,263.7 105.4,258.4 105.6,252.0 105.8,260.1 105.9,261.3 106.1,257.8 106.2,260.8 106.4,261.9 106.6,256.3 106.7,254.0 106.9,259.0 107.0,259.0 107.2,258.5 107.4,263.7 107.5,266.7 107.7,258.4 107.8,262.7 108.0,263.7 108.2,262.9 108.3,264.3 108.5,258.7 108.6,263.1 108.8,268.1 109.0,263.4 109.1,257.9 109.3,262.8 109.4,265.3 109.6,261.8 109.8,258.3 109.9,266.5 110.1,255.7 110.2,262.6 110.4,260.5 110.6,256.0 110.7,253.2 110.9,262.1 111.0,256.2 111.2,263.1 111.4,248.8 111.5,253.5 111.7,258.3 111.8,262.0 112.0,263.5 112.2,261.7 112.3,261.4 112.5,263.1 112.6,260.6 112.8,266.1 113.0,262.2 113.1,262.9 113.3,263.9 113.4,257.9 113.6,259.3 113.8,268.1 113.9,263.6 114.1,261.3 114.2,263.8 114.4,260.6 114.6,263.7 114.7,260.3 114.9,263.9 115.0,257.0 115.2,268.3 115.4,261.2 115.5,257.2 115.7,262.5 115.8,262.0 116.0,264.1 116.2,259.3 116.3,265.3 116.5,274.0 116.6,259.0 116.8,265.4 117.0,263.1 117.1,264.9 117.3,257.2 117.4,259.7 117.6,266.0 117.8,264.0 117.9,270.4 118.1,261.4 118.2,264.6 118.4,274.0 118.6,260.7 118.7,260.3 118.9,263.5 119.0,263.5 119.2,266.8 119.4,263.8 119.5,260.6 119.7,253.4 119.8,273.2 120.0,268.0 120.2,254.2 120.3,262.4 120.5,259.8 120.6,265.2 120.8,262.0 121.0,269.6 121.1,265.7 121.3,265.6 121.4,262.6 121.6,261.5 121.8,262.6 121.9,265.6 122.1,262.4 122.2,258.7 122.4,263.2 122.6,264.3 122.7,256.9 122.9,253.1 123.0,252.3 123.2,250.6 123.4,244.2 123.5,248.2 123.7,245.3 123.8,241.8 124.0,243.5 124.2,243.2 124.3,245.0 124.5,242.3 124.6,248.6 124.8,252.3 125.0,257.2 125.1,259.9 125.3,260.6 125.4,254.5 125.6,252.0 125.8,261.3 125.9,260.1 126.1,259.8 126.2,260.2 126.4,261.8 126.6,255.9 126.7,262.9 126.9,260.0 127.0,262.9 127.2,263.4 127.4,261.3 127.5,263.1 127.7,262.0 127.8,264.9 128.0,264.0 128.2,260.0 128.3,259.7 128.5,268.8 128.6,261.8 128.8,266.0 129.0,263.8 129.1,260.2 129.3,259.2 129.4,262.6 129.6,263.1 129.8,264.6 129.9,257.3 130.1,259.9 130.2,261.8 130.4,268.0 130.6,253.1 130.7,263.6 130.9,259.9 131.0,263.6 131.2,260.1 131.4,263.2 131.5,267.7 131.7,263.1 131.8,263.4 132.0,263.1 132.2,258.8 132.3,263.7 132.5,260.8 132.6,258.5 132.8,261.4 133.0,260.6 133.1,264.3 133.3,261.2 133.4,259.3 133.6,266.8 133.8,264.9 133.9,266.0 134.1,263.4 134.2,260.6 134.4,259.4 134.6,259.9 134.7,264.6 134.9,261.3 135.0,255.2 135.2,260.8 135.4,255.6 135.5,261.6 135.7,256.6 135.8,256.4 136.0,261.6 136.2,260.9 136.3,255.0 136.5,264.2 136.6,269.6 136.8,255.9 137.0,268.3 137.1,258.9 137.3,259.7 137.4,260.9 137.6,256.1 137.8,266.6 137.9,263.6 138.1,258.8 138.2,260.8 138.4,256.1 138.6,260.6 138.7,265.5 138.9,255.5 139.0,260.3 139.2,270.5 139.4,266.0 139.5,253.0 139.7,260.3 139.8,252.0 140.0,263.7 140.2,260.5 140.3,260.6 140.5,265.7 140.6,267.9 140.8,262.3 141.0,260.4 141.1,254.4 141.3,253.3 141.4,260.0 141.6,255.7 141.8,268.1 141.9,261.3 142.1,258.6 142.2,246.1 142.4,247.8 142.6,259.1 142.7,250.6 142.9,253.0 143.0,258.2 143.2,258.6 143.4,250.3 143.5,260.2 143.7,262.2 143.8,258.5 144.0,258.0 144.2,261.8 144.3,253.5 144.5,260.2 144.6,264.1 144.8,255.8 145.0,264.6 145.1,259.5 145.3,253.4 145.4,261.0 145.6,257.9 145.8,262.9 145.9,257.3 146.1,265.7 146.2,259.1 146.4,263.3 146.6,259.7 146.7,260.8 146.9,266.5 147.0,262.9 147.2,260.6 147.4,248.9 147.5,266.4 147.7,264.9 147.8,260.9 148.0,263.1 148.2,258.2 148.3,258.3 148.5,259.0 148.6,263.5 148.8,263.2 149.0,259.3 149.1,264.9 149.3,265.1 149.4,262.8 149.6,266.0 149.8,261.0 149.9,261.7 150.1,263.9 150.2,262.0 150.4,265.1 150.6,257.4 150.7,267.4 150.9,259.2 151.0,261.4 151.2,256.8 151.4,264.3 151.5,266.9 151.7,266.1 151.8,251.3 152.0,256.1 152.2,259.0 152.3,260.3 152.5,258.5 152.6,266.1 152.8,262.6 153.0,261.8 153.1,263.8 153.3,258.4 153.4,258.4 153.6,258.6 153.8,263.8 153.9,263.1 154.1,264.0 154.2,265.9 154.4,256.7 154.6,259.7 154.7,262.4 154.9,256.6 155.0,259.8 155.2,265.6 155.4,265.9 155.5,265.8 155.7,261.8 155.8,260.9 156.0,265.8 156.2,260.2 156.3,263.0 156.5,266.6 156.6,260.3 156.8,259.3 157.0,261.6 157.1,263.9 157.3,263.5 157.4,262.3 157.6,263.8 157.8,255.7 157.9,258.5 158.1,262.4 158.2,258.4 158.4,256.9 158.6,257.4 158.7,258.5 158.9,261.3 159.0,258.2 159.2,263.0 159.4,268.6 159.5,261.6 159.7,267.0 159.8,263.4 160.0,258.0 160.2,261.3 160.3,258.6 160.5,265.2 160.6,258.1 160.8,267.4 161.0,264.7 161.1,254.9 161.3,265.5 161.4,268.4 161.6,259.6 161.8,266.3 161.9,255.8 162.1,263.6 162.2,256.4 162.4,264.6 162.6,256.0 162.7,253.9 162.9,264.3 163.0,271.5 163.2,260.7 163.4,266.2 163.5,263.6 163.7,262.1 163.8,265.8 164.0,269.8 164.2,258.9 164.3,265.9 164.5,265.1 164.6,258.5 164.8,270.1 165.0,271.6 165.1,260.7 165.3,271.0 165.4,264.7 165.6,250.7 165.8,270.3 165.9,265.6 166.1,266.1 166.2,270.7 166.4,269.9 166.6,268.6 166.7,259.9 166.9,259.4 167.0,269.7 167.2,262.0 167.4,266.3 167.5,261.6 167.7,265.1 167.8,260.8 168.0,271.8 168.2,261.8 168.3,265.1 168.5,264.9 168.6,270.1 168.8,260.1 169.0,265.3 169.1,264.6 169.3,267.4 169.4,267.3 169.6,263.6 169.8,266.2 169.9,263.9 170.1,267.0 170.2,264.9 170.4,262.7 170.6,265.0 170.7,266.5 170.9,273.7 171.0,263.2 171.2,266.2 171.4,270.5 171.5,257.0 171.7,258.2 171.8,260.3 172.0,264.3 172.2,274.0 172.3,266.2 172.5,269.2 172.6,263.9 172.8,255.7 173.0,255.8 173.1,268.5 173.3,265.4 173.4,267.4 173.6,268.8 173.8,258.7 173.9,268.9 174.1,258.8 174.2,261.6 174.4,260.4 174.6,267.7 174.7,260.3 174.9,267.7 175.0,259.9 175.2,267.5 175.4,264.8 175.5,262.7 175.7,260.8 175.8,265.2 176.0,250.4 176.2,263.3 176.3,262.8 176.5,266.8 176.6,259.5 176.8,270.8 177.0,263.0 177.1,259.9 177.3,269.4 177.4,270.5 177.6,263.4 177.8,260.7 177.9,264.2 178.1,261.4 178.2,262.8 178.4,269.9 178.6,265.5 178.7,264.4 178.9,265.4 179.0,263.7 179.2,267.2 179.4,267.3 179.5,262.6 179.7,264.2 179.8,273.2 180.0,265.5 180.2,263.2 180.3,271.8 180.5,263.8 180.6,259.6 180.8,266.3 181.0,260.4 181.1,262.0 181.3,265.2 181.4,263.4 181.6,261.0 181.8,261.7 181.9,261.7 182.1,268.5 182.2,261.3 182.4,261.8 182.6,271.9 182.7,261.8 182.9,269.7 183.0,269.1 183.2,263.4 183.4,258.5 183.5,265.8 183.7,266.6 183.8,267.9 184.0,264.3 184.2,268.5 184.3,269.4 184.5,259.9 184.6,269.5 184.8,264.8 185.0,261.8 185.1,262.7 185.3,271.2 185.4,267.9 185.6,257.0 185.8,264.4 185.9,263.4 186.1,263.3 186.2,261.9 186.4,249.9 186.6,266.9 186.7,260.0 186.9,262.1 187.0,261.3 187.2,260.9 187.4,251.2 187.5,265.1 187.7,260.7 187.8,259.7 188.0,269.6 188.2,267.2 188.3,263.8 188.5,264.1 188.6,261.9 188.8,262.3 189.0,263.9 189.1,256.0 189.3,269.3 189.4,260.0 189.6,260.7 189.8,268.0 189.9,263.8 190.1,263.0 190.2,260.6 190.4,256.6 190.6,263.4 190.7,267.2 190.9,259.3 191.0,267.7 191.2,258.1 191.4,259.6 191.5,264.3 191.7,262.2 191.8,264.9 192.0,259.4 192.2,258.4 192.3,255.1 192.5,257.7 192.6,257.9 192.8,256.6 193.0,263.4 193.1,259.6 193.3,254.4 193.4,271.5 193.6,258.8 193.8,257.0 193.9,266.6 194.1,266.2 194.2,257.4 194.4,256.1 194.6,257.8 194.7,265.7 194.9,260.3 195.0,258.6 195.2,261.1 195.4,265.8 195.5,255.7 195.7,259.4 195.8,255.7 196.0,269.0 196.2,267.5 196.3,263.9 196.5,260.2 196.6,262.1 196.8,252.2 197.0,261.0 197.1,255.1 197.3,255.1 197.4,256.6 197.6,257.4 197.8,260.2 197.9,260.4 198.1,258.8 198.2,254.4 198.4,256.2 198.6,256.4 198.7,259.3 198.9,252.9 199.0,248.9 199.2,252.5 199.4,257.8 199.5,252.5 199.7,250.4 199.8,250.1 200.0,247.7 200.2,246.1 200.3,241.6 200.5,241.1 200.6,237.6 200.8,233.2 201.0,229.0 201.1,225.9 201.3,221.9 201.4,215.4 201.6,210.8 201.8,205.0 201.9,200.7 202.1,196.3 202.2,193.4 202.4,191.4 202.6,191.1 202.7,192.4 202.9,195.5 203.0,200.9 203.2,205.3 203.4,209.1 203.5,213.6 203.7,219.9 203.8,226.2 204.0,229.0 204.2,232.0 204.3,236.8 204.5,238.6 204.6,241.6 204.8,245.3 205.0,246.0 205.1,250.9 205.3,248.1 205.4,252.3 205.6,254.9 205.8,257.9 205.9,257.6 206.1,256.4 206.2,253.4 206.4,257.1 206.6,261.1 206.7,255.7 206.9,260.6 207.0,259.1 207.2,260.2 207.4,259.0 207.5,267.7 207.7,258.0 207.8,260.7 208.0,261.7 208.2,262.5 208.3,253.9 208.5,262.7 208.6,264.4 208.8,255.2 209.0,261.1 209.1,256.5 209.3,261.8 209.4,257.0 209.6,257.6 209.8,261.1 209.9,266.7 210.1,263.6 210.2,262.7 210.4,255.0 210.6,257.6 210.7,253.4 210.9,259.8 211.0,260.4 211.2,266.0 211.4,269.7 211.5,256.2 211.7,270.8 211.8,267.4 212.0,264.5 212.2,262.8 212.3,270.8 212.5,261.5 212.6,259.1 212.8,266.4 213.0,255.5 213.1,262.7 213.3,260.6 213.4,262.2 213.6,262.2 213.8,256.4 213.9,265.9 214.1,256.8 214.2,264.1 214.4,254.2 214.6,248.5 214.7,257.3 214.9,260.6 215.0,257.7 215.2,251.3 215.4,255.8 215.5,260.4 215.7,262.6 215.8,258.9 216.0,251.6 216.2,256.7 216.3,259.4 216.5,257.5 216.6,257.0 216.8,263.6 217.0,254.1 217.1,263.2 217.3,256.5 217.4,260.6 217.6,259.2 217.8,246.6 217.9,263.7 218.1,260.7 218.2,258.6 218.4,266.0 218.6,263.5 218.7,263.8 218.9,265.3 219.0,256.0 219.2,246.8 219.4,258.8 219.5,264.3 219.7,257.5 219.8,260.7 220.0,262.0 220.2,266.2 220.3,265.5 220.5,263.9 220.6,259.7 220.8,264.0 221.0,262.6 221.1,260.0 221.3,265.6 221.4,262.3 221.6,257.5 221.8,265.3 221.9,259.5 222.1,268.9 222.2,254.5 222.4,260.3 222.6,256.7 222.7,256.5 222.9,253.1 223.0,268.2 223.2,259.7 223.4,261.1 223.5,264.2 223.7,259.7 223.8,262.0 224.0,255.0 224.2,260.5 224.3,258.5 224.5,261.8 224.6,260.6 224.8,254.6 225.0,252.8 225.1,256.0 225.3,262.3 225.4,261.0 225.6,261.0 225.8,252.0 225.9,251.0 226.1,256.7 226.2,257.8 226.4,256.7 226.6,260.2 226.7,258.1 226.9,254.7 227.0,255.8 227.2,258.9 227.4,258.9 227.5,258.0 227.7,266.0 227.8,257.3 228.0,258.4 228.2,255.2 228.3,257.3 228.5,259.3 228.6,259.9 228.8,257.6 229.0,259.0 229.1,257.5 229.3,251.8 229.4,250.6 229.6,263.1 229.8,259.5 229.9,257.0 230.1,251.6 230.2,252.7 230.4,259.5 230.6,249.5 230.7,254.6 230.9,256.7 231.0,254.6 231.2,255.6 231.4,253.4 231.5,258.1 231.7,250.4 231.8,249.7 232.0,252.2 232.2,253.3 232.3,249.3 232.5,249.6 232.6,247.4 232.8,245.9 233.0,248.6 233.1,247.0 233.3,246.3 233.4,241.9 233.6,239.9 233.8,238.7 233.9,238.0 234.1,237.0 234.2,234.8 234.4,231.6 234.6,231.0 234.7,227.7 234.9,224.1 235.0,221.0 235.2,217.7 235.4,214.3 235.5,209.7 235.7,203.4 235.8,197.6 236.0,190.8 236.2,183.2 236.3,173.3 236.5,161.4 236.6,147.3 236.8,129.2 237.0,108.4 237.1,86.2 237.3,62.4 237.4,43.1 237.6,36.4 237.8,45.1 237.9,61.8 238.1,84.3 238.2,109.1 238.4,128.2 238.6,147.5 238.7,161.4 238.9,174.2 239.0,185.6 239.2,192.3 239.4,198.6 239.5,203.7 239.7,210.4 239.8,214.6 240.0,217.9 240.2,222.2 240.3,226.1 240.5,227.8 240.6,230.9 240.8,234.2 241.0,235.7 241.1,239.4 241.3,239.8 241.4,241.0 241.6,243.2 241.8,244.3 241.9,245.2 242.1,245.4 242.2,248.2 242.4,248.6 242.6,249.5 242.7,249.7 242.9,253.1 243.0,253.1 243.2,253.8 243.4,252.8 243.5,253.2 243.7,254.5 243.8,256.1 244.0,255.0 244.2,256.1 244.3,258.1 244.5,257.7 244.6,255.1 244.8,256.7 245.0,256.7 245.1,258.3 245.3,255.8 245.4,257.6 245.6,258.8 245.8,257.7 245.9,255.4 246.1,256.2 246.2,257.1 246.4,257.1 246.6,257.6 246.7,254.5 246.9,250.5 247.0,255.7 247.2,251.7 247.4,250.9 247.5,248.4 247.7,243.4 247.8,243.6 248.0,242.6 248.2,242.3 248.3,240.4 248.5,236.6 248.6,240.5 248.8,242.8 249.0,246.8 249.1,247.7 249.3,253.0 249.4,253.6 249.6,254.9 249.8,256.2 249.9,251.9 250.1,258.2 250.2,258.9 250.4,256.4 250.6,260.4 250.7,260.1 250.9,258.4 251.0,259.9 251.2,260.0 251.4,261.8 251.5,260.2 251.7,263.2 251.8,256.0 252.0,260.9 252.2,257.0 252.3,260.8 252.5,263.6 252.6,262.5 252.8,262.5 253.0,263.0 253.1,267.5 253.3,259.9 253.4,265.8 253.6,258.8 253.8,262.0 253.9,263.8 254.1,261.1 254.2,264.3 254.4,260.7 254.6,260.5 254.7,263.7 254.9,262.9 255.0,258.5 255.2,263.7 255.4,261.6 255.5,268.2 255.7,261.6 255.8,269.3 256.0,262.9 256.2,270.3 256.3,266.1 256.5,255.7 256.6,266.8 256.8,267.1 257.0,268.6 257.1,262.2 257.3,263.6 257.4,261.0 257.6,257.2 257.8,263.6 257.9,266.8 258.1,265.6 258.2,265.0 258.4,263.6 258.6,262.7 258.7,263.7 258.9,265.9 259.0,259.7 259.2,267.2 259.4,260.6 259.5,264.4 259.7,263.1 259.8,264.0 260.0,261.9 260.2,261.7 260.3,264.5 260.5,262.1 260.6,272.1 260.8,263.8 261.0,263.2 261.1,263.6 261.3,262.2 261.4,258.3 261.6,264.5 261.8,266.1 261.9,266.1 262.1,265.2 262.2,261.7 262.4,265.1 262.6,266.4 262.7,266.7 262.9,266.5 263.0,263.0 263.2,267.6 263.4,263.8 263.5,266.1 263.7,267.1 263.8,264.2 264.0,261.3 264.2,266.6 264.3,261.9 264.5,262.5 264.6,261.7 264.8,267.1 265.0,264.3 265.1,258.5 265.3,266.9 265.4,270.5 265.6,269.7 265.8,263.1 265.9,264.8 266.1,266.0 266.2,267.0 266.4,264.7 266.6,261.6 266.7,266.5 266.9,266.2 267.0,260.9 267.2,263.4 267.4,265.0 267.5,264.4 267.7,265.8 267.8,256.4 268.0,265.6 268.2,263.9 268.3,260.5 268.5,265.7 268.6,267.8 268.8,271.9 269.0,263.8 269.1,263.9 269.3,267.7 269.4,267.7 269.6,264.6 269.8,265.7 269.9,261.8 270.1,265.1 270.2,261.5 270.4,263.2 270.6,263.2 270.7,262.3 270.9,257.8 271.0,261.3 271.2,264.3 271.4,263.1 271.5,267.1 271.7,264.4 271.8,265.0 272.0,265.3 272.2,261.0 272.3,263.0 272.5,262.0 272.6,260.8 272.8,259.0 273.0,256.2 273.1,260.4 273.3,268.3 273.4,262.3 273.6,262.1 273.8,261.4 273.9,267.3 274.1,260.1 274.2,262.1 274.4,260.7 274.6,262.4 274.7,262.6 274.9,265.6 275.0,259.0 275.2,262.9 275.4,267.2 275.5,261.8 275.7,262.7 275.8,260.8 276.0,256.6 276.2,263.0 276.3,266.3 276.5,262.1 276.6,258.7 276.8,264.3 277.0,263.9 277.1,258.2 277.3,266.0 277.4,263.2 277.6,264.9 277.8,259.4 277.9,266.9 278.1,264.6 278.2,266.7 278.4,266.6 278.6,258.0 278.7,263.7 278.9,261.9 279.0,259.1 279.2,264.1 279.4,257.0 279.5,261.8 279.7,266.4 279.8,265.1 280.0,265.9 280.2,263.3 280.3,260.5 280.5,267.1 280.6,266.9 280.8,265.0 281.0,264.2 281.1,264.8 281.3,265.3 281.4,264.3 281.6,260.5 281.8,267.7 281.9,261.8 282.1,265.1 282.2,265.2 282.4,266.6 282.6,261.8 282.7,269.0 282.9,267.7 283.0,268.0 283.2,268.8 283.4,263.8 283.5,255.0 283.7,266.3 283.8,268.2 284.0,267.5 284.2,263.5 284.3,264.4 284.5,264.9 284.6,259.9 284.8,262.0 285.0,261.9 285.1,266.3 285.3,261.2 285.4,265.2 285.6,261.5 285.8,257.5 285.9,264.8 286.1,257.4 286.2,259.7 286.4,260.5 286.6,255.1 286.7,252.9 286.9,254.8 287.0,252.4 287.2,248.5 287.4,245.3 287.5,243.2 287.7,240.4 287.8,235.6 288.0,231.9 288.2,228.3 288.3,222.7 288.5,218.5 288.6,214.8 288.8,210.7 289.0,210.0 289.1,210.6 289.3,212.0 289.4,215.8 289.6,220.2 289.8,224.6 289.9,228.7 290.1,233.7 290.2,237.6 290.4,241.3 290.6,244.9 290.7,247.4 290.9,249.9 291.0,253.3 291.2,253.2 291.4,256.0 291.5,254.5 291.7,258.2 291.8,258.6 292.0,259.9 292.2,258.8 292.3,258.6 292.5,260.6 292.6,260.7 292.8,264.1 293.0,262.0 293.1,260.1 293.3,264.5 293.4,262.3 293.6,264.5 293.8,262.6 293.9,260.6 294.1,266.4 294.2,265.4 294.4,261.6 294.6,260.2 294.7,263.6 294.9,262.2 295.0,264.2 295.2,266.5 295.4,268.8 295.5,264.6 295.7,268.6 295.8,268.2 296.0,264.6 296.2,261.7 296.3,267.7 296.5,267.1 296.6,271.4 296.8,269.1 297.0,267.4 297.1,269.9 297.3,263.5 297.4,260.4 297.6,265.5 297.8,269.9 297.9,267.3 298.1,259.8 298.2,269.2 298.4,264.1 298.6,268.1 298.7,265.1 298.9,266.9 299.0,267.6 299.2,266.8 299.4,264.2 299.5,269.7 299.7,267.3 299.8,266.5 300.0,268.1 300.2,265.2 300.3,263.2 300.5,267.2 300.6,267.5 300.8,267.3 301.0,264.4 301.1,263.8 301.3,266.9 301.4,267.3 301.6,269.6 301.8,267.5 301.9,264.0 302.1,267.7 302.2,268.4 302.4,268.9 302.6,267.3 302.7,263.8 302.9,269.2 303.0,264.8 303.2,267.9 303.4,262.9 303.5,268.3 303.7,264.8 303.8,269.0 304.0,270.6 304.2,262.1 304.3,267.8 304.5,264.5 304.6,264.6 304.8,268.0 305.0,267.3 305.1,267.0 305.3,267.3 305.4,268.0 305.6,268.1 305.8,270.5 305.9,266.4 306.1,267.0 306.2,262.3 306.4,266.9 306.6,265.0 306.7,263.8 306.9,267.0 307.0,268.9 307.2,265.6 307.4,265.5 307.5,265.5 307.7,266.8 307.8,265.3 308.0,267.4 308.2,267.1 308.3,267.3 308.5,268.2 308.6,266.5 308.8,266.8 309.0,270.4 309.1,266.4 309.3,268.2 309.4,266.5 309.6,265.4 309.8,265.4 309.9,264.6 310.1,266.4 310.2,265.1 310.4,265.5 310.6,269.1 310.7,266.1 310.9,268.9 311.0,267.1 311.2,268.4 311.4,265.2 311.5,266.8 311.7,272.3 311.8,268.3 312.0,268.9 312.2,267.1 312.3,268.4 312.5,264.0 312.6,264.5 312.8,267.4 313.0,268.3 313.1,265.6 313.3,265.9 313.4,258.1 313.6,265.7 313.8,263.5 313.9,262.8 314.1,265.6 314.2,261.7 314.4,263.1 314.6,256.7 314.7,262.2 314.9,264.5 315.0,262.6 315.2,258.1 315.4,260.5 315.5,260.8 315.7,263.0 315.8,262.4 316.0,260.6 316.2,262.4 316.3,262.5 316.5,262.7 316.6,266.4 316.8,262.5 317.0,264.7 317.1,265.3 317.3,264.4 317.4,262.8 317.6,267.0 317.8,266.5 317.9,266.3 318.1,266.5 318.2,266.5 318.4,264.9 318.6,267.6 318.7,263.3 318.9,267.1 319.0,267.8 319.2,259.6 319.4,268.8 319.5,266.9 319.7,266.5 319.8,268.5 320.0,267.0 320.2,266.8 320.3,266.6 320.5,270.6 320.6,268.8 320.8,268.4 321.0,264.9 321.1,268.6 321.3,264.6 321.4,268.3 321.6,264.9 321.8,271.3 321.9,263.3 322.1,269.5 322.2,268.4 322.4,262.6 322.6,265.7 322.7,268.8 322.9,267.9 323.0,261.5 323.2,263.5 323.4,261.7 323.5,261.4 323.7,261.7 323.8,266.6 324.0,262.2 324.2,261.4 324.3,261.0 324.5,263.0 324.6,263.4 324.8,260.0 325.0,265.6 325.1,260.5 325.3,263.1 325.4,265.0 325.6,259.6 325.8,264.1 325.9,266.2 326.1,268.6 326.2,267.5 326.4,268.7 326.6,268.9 326.7,267.5 326.9,268.3 327.0,269.3 327.2,267.3 327.4,270.9 327.5,262.8 327.7,265.3 327.8,270.7 328.0,268.4 328.2,266.1 328.3,268.4 328.5,270.1 328.6,266.2 328.8,269.4 329.0,267.4 329.1,267.5 329.3,267.5 329.4,270.3 329.6,265.2 329.8,266.8 329.9,269.4 330.1,265.0 330.2,264.1 330.4,269.0 330.6,267.8 330.7,267.3 330.9,268.0 331.0,265.4 331.2,274.3 331.4,265.2 331.5,266.5 331.7,264.4 331.8,270.2 332.0,271.1 332.2,267.5 332.3,263.9 332.5,266.3 332.6,271.7 332.8,267.9 333.0,264.5 333.1,269.3 333.3,266.4 333.4,268.8 333.6,267.6 333.8,267.8 333.9,259.6 334.1,259.5 334.2,263.7 334.4,269.5 334.6,267.0 334.7,267.9 334.9,266.0 335.0,262.4 335.2,264.1 335.4,270.5 335.5,265.2 335.7,266.2 335.8,263.6 336.0,265.8 336.2,266.0 336.3,266.3 336.5,266.8 336.6,265.4 336.8,265.5 337.0,266.8 337.1,267.8 337.3,266.4 337.4,271.1 337.6,267.4 337.8,267.3 337.9,265.2 338.1,269.2 338.2,264.1 338.4,258.9 338.6,264.3 338.7,268.1 338.9,263.7 339.0,269.8 339.2,266.5 339.4,262.9 339.5,265.9 339.7,270.8 339.8,264.4 340.0,263.2 340.2,267.7 340.3,269.6 340.5,268.8 340.6,265.6 340.8,266.7 341.0,267.0 341.1,269.1 341.3,271.6 341.4,265.9 341.6,269.3 341.8,265.2 341.9,267.5 342.1,263.6 342.2,264.0 342.4,267.0 342.6,263.6 342.7,268.1 342.9,264.4 343.0,265.9 343.2,265.5 343.4,264.9 343.5,266.0 343.7,268.4 343.8,273.4 344.0,262.5 344.2,266.3 344.3,265.1 344.5,263.1 344.6,266.1 344.8,263.1 345.0,265.0 345.1,268.4 345.3,260.1 345.4,265.8 345.6,266.3 345.8,262.6 345.9,266.6 346.1,265.9 346.2,264.0 346.4,268.0 346.6,261.4 346.7,266.5 346.9,264.2 347.0,262.0 347.2,268.7 347.4,263.8 347.5,266.7 347.7,260.7 347.8,264.0 348.0,263.2 348.2,268.5 348.3,261.4 348.5,266.9 348.6,259.8 348.8,265.2 349.0,259.2 349.1,264.9 349.3,262.1 349.4,258.9 349.6,256.0 349.8,267.4 349.9,264.2 350.1,261.4 350.2,265.9 350.4,261.4 350.6,261.5 350.7,260.1 350.9,266.3 351.0,268.4 351.2,260.6 351.4,255.1 351.5,257.7 351.7,268.5 351.8,256.4 352.0,262.9 352.2,264.1 352.3,258.4 352.5,263.3 352.6,262.5 352.8,263.8 353.0,260.2 353.1,262.8 353.3,259.6 353.4,262.9 353.6,261.2 353.8,259.4 353.9,256.6 354.1,264.4 354.2,262.5 354.4,261.3 354.6,257.1 354.7,257.1 354.9,261.7 355.0,258.8 355.2,254.2 355.4,255.5 355.5,254.8 355.7,252.9 355.8,250.6 356.0,253.9 356.2,251.5 356.3,249.4 356.5,245.2 356.6,244.3 356.8,244.6 357.0,244.5 357.1,241.8 357.3,242.7 357.4,241.3 357.6,239.5 357.8,237.6 357.9,239.1 358.1,238.6 358.2,240.6 358.4,242.3 358.6,244.7 358.7,243.7 358.9,243.3 359.0,249.7 359.2,248.0 359.4,248.4 359.5,252.5 359.7,247.4 359.8,253.0 360.0,253.2 360.2,256.8 360.3,256.2 360.5,251.8 360.6,257.1 360.8,250.5 361.0,253.3 361.1,254.4 361.3,251.5 361.4,253.8 361.6,253.3 361.8,255.8 361.9,254.1 362.1,249.2 362.2,254.3 362.4,257.8 362.6,249.7 362.7,246.2 362.9,255.0 363.0,252.0 363.2,254.3 363.4,256.2 363.5,253.0 363.7,257.9 363.8,258.7 364.0,254.3 364.2,258.3 364.3,261.7 364.5,258.9 364.6,260.8 364.8,261.7 365.0,259.4 365.1,263.0 365.3,261.8 365.4,258.0 365.6,262.6 365.8,263.6 365.9,263.6 366.1,259.8 366.2,263.1 366.4,265.7 366.6,262.9 366.7,265.5 366.9,266.0 367.0,262.3 367.2,264.5 367.4,267.3 367.5,265.9 367.7,262.6 367.8,261.5 368.0,262.8 368.2,262.9 368.3,264.3 368.5,264.3 368.6,259.9 368.8,261.6 369.0,264.5 369.1,264.9 369.3,263.8 369.4,271.2 369.6,266.9 369.8,263.5 369.9,265.7 370.1,267.7 370.2,264.8 370.4,259.1 370.6,264.2 370.7,264.4 370.9,270.0 371.0,259.0 371.2,268.7 371.4,263.5 371.5,266.7 371.7,263.2 371.8,264.9 372.0,267.5 372.2,264.5 372.3,267.3 372.5,264.2 372.6,263.3 372.8,263.8 373.0,263.2 373.1,264.1 373.3,268.4 373.4,261.1 373.6,259.8 373.8,264.4 373.9,269.0 374.1,267.0 374.2,268.0 374.4,267.6 374.6,262.5 374.7,264.2 374.9,257.5 375.0,262.2 375.2,265.2 375.4,259.7 375.5,258.1 375.7,259.8 375.8,263.7 376.0,265.0 376.2,268.1 376.3,265.0 376.5,258.1 376.6,255.5 376.8,259.8 377.0,261.3 377.1,255.1 377.3,256.4 377.4,255.3 377.6,254.7 377.8,253.3 377.9,252.9 378.1,251.2 378.2,249.3 378.4,247.1 378.6,245.8 378.7,241.2 378.9,237.4 379.0,235.1 379.2,231.6 379.4,227.0 379.5,222.9 379.7,218.0 379.8,213.5 380.0,208.6 380.2,203.5 380.3,198.9 380.5,196.9 380.6,194.7 380.8,194.5 381.0,194.1 381.1,196.8 381.3,198.8 381.4,203.9 381.6,208.2 381.8,213.0 381.9,219.0 382.1,222.5 382.2,226.6 382.4,230.4 382.6,234.5 382.7,237.3 382.9,240.2 383.0,243.3 383.2,245.5 383.4,246.3 383.5,252.2 383.7,251.9 383.8,250.4 384.0,255.6 384.2,255.6 384.3,255.9 384.5,258.1 384.6,255.9 384.8,251.8 385.0,258.4 385.1,259.8 385.3,261.7 385.4,258.4 385.6,259.6 385.8,262.1 385.9,260.5 386.1,260.8 386.2,262.8 386.4,259.6 386.6,266.3 386.7,260.3 386.9,262.8 387.0,261.7 387.2,261.2 387.4,264.9 387.5,265.8 387.7,267.4 387.8,265.3 388.0,262.5 388.2,266.3 388.3,259.9 388.5,264.3 388.6,265.6 388.8,265.8 389.0,261.1 389.1,260.1 389.3,269.0 389.4,263.0 389.6,259.8 389.8,261.0 389.9,264.5 390.1,268.1 390.2,264.7 390.4,267.9 390.6,265.4 390.7,266.2 390.9,267.5 391.0,263.8 391.2,265.7 391.4,263.8 391.5,263.0 391.7,266.8 391.8,262.6 392.0,265.5 392.2,262.9 392.3,264.8 392.5,263.5 392.6,268.2 392.8,265.3 393.0,265.0 393.1,269.7 393.3,257.6 393.4,261.8 393.6,257.4 393.8,264.8 393.9,266.1 394.1,267.0 394.2,265.8 394.4,262.6 394.6,270.0 394.7,265.7 394.9,264.0 395.0,261.7 395.2,266.0 395.4,263.4 395.5,263.8 395.7,265.7 395.8,265.6 396.0,262.7 396.2,268.6 396.3,262.1 396.5,261.6 396.6,265.9 396.8,265.4 397.0,265.2 397.1,263.8 397.3,265.1 397.4,256.5 397.6,260.1 397.8,267.1 397.9,261.9 398.1,264.3 398.2,267.0 398.4,264.9 398.6,272.8 398.7,260.9 398.9,256.7 399.0,265.1 399.2,259.5 399.4,264.2 399.5,261.0 399.7,268.2 399.8,262.1 400.0,264.2 400.2,267.4 400.3,263.0 400.5,263.5 400.6,266.4 400.8,264.1 401.0,265.5 401.1,262.2 401.3,264.7 401.4,261.9 401.6,260.6 401.8,270.0 401.9,266.3 402.1,267.5 402.2,262.4 402.4,264.9 402.6,264.3 402.7,261.0 402.9,266.3 403.0,263.0 403.2,264.3 403.4,260.5 403.5,267.8 403.7,267.0 403.8,265.9 404.0,267.4 404.2,269.0 404.3,268.2 404.5,264.1 404.6,265.7 404.8,265.1 405.0,261.7 405.1,269.1 405.3,259.2 405.4,265.1 405.6,264.3 405.8,260.3 405.9,265.2 406.1,265.7 406.2,264.4 406.4,262.3 406.6,265.5 406.7,267.1 406.9,269.4 407.0,268.3 407.2,266.0 407.4,265.8 407.5,267.5 407.7,261.7 407.8,262.2 408.0,264.7 408.2,264.6 408.3,267.0 408.5,265.8 408.6,263.6 408.8,263.3 409.0,262.1 409.1,261.4 409.3,261.2 409.4,264.1 409.6,261.2 409.8,261.5 409.9,262.1 410.1,260.4 410.2,261.2 410.4,256.0 410.6,261.9 410.7,259.9 410.9,261.1 411.0,261.2 411.2,256.3 411.4,265.1 411.5,259.6 411.7,259.4 411.8,255.3 412.0,259.9 412.2,259.0 412.3,257.3 412.5,258.0 412.6,259.1 412.8,255.9 413.0,254.3 413.1,257.1 413.3,255.4 413.4,253.5 413.6,256.5 413.8,253.3 413.9,252.0 414.1,250.9 414.2,249.2 414.4,248.6 414.6,247.8 414.7,245.9 414.9,244.1 415.0,242.5 415.2,241.3 415.4,239.9 415.5,237.3 415.7,234.4 415.8,230.9 416.0,228.5 416.2,224.7 416.3,221.4 416.5,216.5 416.6,212.1 416.8,207.2 417.0,201.6 417.1,196.5 417.3,190.8 417.4,183.5 417.6,176.9 417.8,173.2 417.9,167.4 418.1,162.0 418.2,159.9 418.4,159.4 418.6,161.3 418.7,162.8 418.9,167.9 419.0,172.1 419.2,177.2 419.4,184.0 419.5,188.8 419.7,196.0 419.8,202.0 420.0,207.3 420.2,212.3 420.3,216.6 420.5,221.4 420.6,224.4 420.8,228.7 421.0,232.2 421.1,234.0 421.3,238.1 421.4,239.4 421.6,242.7 421.8,243.1 421.9,244.6 422.1,246.7 422.2,248.6 422.4,248.3 422.6,250.4 422.7,253.6 422.9,250.9 423.0,251.9 423.2,253.8 423.4,252.7 423.5,252.6 423.7,254.2 423.8,260.1 424.0,258.6 424.2,259.1 424.3,258.7 424.5,255.8 424.6,260.6 424.8,264.9 425.0,259.1 425.1,262.6 425.3,260.6 425.4,260.3 425.6,262.3 425.8,256.6 425.9,265.2 426.1,260.8 426.2,259.7 426.4,261.9 426.6,263.7 426.7,264.3 426.9,263.4 427.0,266.8 427.2,265.0 427.4,263.5 427.5,258.3 427.7,264.0 427.8,264.3 428.0,263.0 428.2,263.4 428.3,266.4 428.5,267.8 428.6,269.9 428.8,268.1 429.0,264.2 429.1,266.6 429.3,263.1 429.4,267.5 429.6,267.1 429.8,265.0 429.9,266.4 430.1,266.0 430.2,265.1 430.4,262.5 430.6,273.9 430.7,268.6 430.9,269.3 431.0,267.1 431.2,266.0 431.4,271.8 431.5,265.7 431.7,267.7 431.8,266.5 432.0,268.3 432.2,266.5 432.3,268.0 432.5,264.0 432.6,261.6 432.8,269.9 433.0,264.1 433.1,268.8 433.3,270.0 433.4,267.8 433.6,269.0 433.8,261.6 433.9,267.0 434.1,263.7 434.2,263.5 434.4,267.6 434.6,269.4 434.7,263.2 434.9,264.1 435.0,265.2 435.2,266.4 435.4,263.4 435.5,271.7 435.7,267.8 435.8,265.7 436.0,265.2 436.2,271.8 436.3,271.5 436.5,265.4 436.6,267.0 436.8,269.2 437.0,263.5 437.1,264.9 437.3,268.9 437.4,264.1 437.6,264.4 437.8,262.1 437.9,263.3 438.1,266.4 438.2,262.7 438.4,261.1 438.6,262.2 438.7,267.4 438.9,263.5 439.0,261.4 439.2,262.8 439.4,263.2 439.5,262.2 439.7,257.9 439.8,262.8 440.0,261.6 440.2,264.1 440.3,259.5 440.5,265.2 440.6,262.1 440.8,259.8 441.0,266.7 441.1,263.0 441.3,265.3 441.4,264.4 441.6,267.3 441.8,267.6 441.9,268.0 442.1,267.1 442.2,262.3 442.4,262.1 442.6,266.3 442.7,263.9 442.9,267.1 443.0,266.2 443.2,262.8 443.4,263.5 443.5,263.1 443.7,263.6 443.8,264.9 444.0,266.8 444.2,268.1 444.3,262.5 444.5,263.1 444.6,271.1 444.8,265.7 445.0,264.0 445.1,258.0 445.3,260.5 445.4,262.6 445.6,260.7 445.8,266.3 445.9,261.9 446.1,262.6 446.2,259.6 446.4,260.0 446.6,261.0 446.7,256.0 446.9,262.7 447.0,264.3 447.2,264.3 447.4,266.4 447.5,261.6 447.7,265.4 447.8,260.1 448.0,268.9 448.2,265.1 448.3,266.4 448.5,264.2 448.6,267.0 448.8,267.2 449.0,265.1 449.1,265.5 449.3,266.4 449.4,267.8 449.6,264.1 449.8,268.7 449.9,266.0 450.1,270.8 450.2,269.9 450.4,265.9 450.6,265.5 450.7,272.0 450.9,268.2 451.0,272.6 451.2,265.8 451.4,266.6 451.5,268.5 451.7,268.2 451.8,265.2 452.0,269.6 452.2,267.5 452.3,264.9 452.5,269.0 452.6,266.6 452.8,268.7 453.0,265.8 453.1,267.7 453.3,263.5 453.4,267.8 453.6,263.6 453.8,267.3 453.9,261.6 454.1,266.9 454.2,268.6 454.4,271.5 454.6,269.6 454.7,264.7 454.9,270.3 455.0,264.4 455.2,264.4 455.4,265.4 455.5,265.9 455.7,267.0 455.8,267.5 456.0,261.7 456.2,268.3 456.3,266.5 456.5,264.8 456.6,262.0 456.8,266.2 457.0,269.4 457.1,268.1 457.3,266.3 457.4,269.5 457.6,268.8 457.8,266.1 457.9,268.1 458.1,265.9 458.2,268.3 458.4,259.7 458.6,270.8 458.7,267.6 458.9,267.4 459.0,267.8 459.2,265.1 459.4,266.8 459.5,265.6 459.7,262.1 459.8,263.2 460.0,268.5 460.2,266.2 460.3,266.6 460.5,263.9 460.6,265.7 460.8,268.7 461.0,267.3 461.1,266.0 461.3,270.3 461.4,266.9 461.6,266.3 461.8,269.4 461.9,263.4 462.1,268.3 462.2,264.7 462.4,265.4 462.6,265.6 462.7,267.4 462.9,271.0 463.0,267.7 463.2,267.4 463.4,269.9 463.5,270.6 463.7,268.6 463.8,263.4 464.0,266.2 464.2,264.7 464.3,268.3 464.5,267.2 464.6,268.9 464.8,263.2 465.0,272.7 465.1,264.4 465.3,267.2 465.4,269.2 465.6,259.3 465.8,265.8 465.9,262.8 466.1,264.0 466.2,262.9 466.4,267.1 466.6,260.4 466.7,266.4 466.9,269.6 467.0,269.9 467.2,267.0 467.4,266.5 467.5,266.3 467.7,265.9 467.8,263.1 468.0,267.4 468.2,266.2 468.3,266.2 468.5,268.1 468.6,266.1 468.8,267.5 469.0,266.7 469.1,269.7 469.3,269.2 469.4,263.6 469.6,266.3 469.8,268.1 469.9,265.5 470.1,268.2 470.2,267.2 470.4,267.7 470.6,265.9 470.7,266.8 470.9,266.9 471.0,262.6 471.2,263.7 471.4,263.1 471.5,268.7 471.7,265.4 471.8,265.4 472.0,264.4 472.2,263.0 472.3,261.7 472.5,264.5 472.6,261.4 472.8,265.1 473.0,261.6 473.1,260.7 473.3,259.7 473.4,258.8 473.6,258.3 473.8,260.6 473.9,261.1 474.1,254.8 474.2,254.6 474.4,261.1 474.6,254.8 474.7,255.1 474.9,256.2 475.0,253.1 475.2,258.8 475.4,258.3 475.5,259.0 475.7,260.0 475.8,261.1 476.0,265.9 476.2,262.2 476.3,263.9 476.5,262.1 476.6,264.3 476.8,263.4 477.0,264.2 477.1,262.8 477.3,263.5 477.4,266.5 477.6,267.4 477.8,267.2 477.9,265.1 478.1,267.0 478.2,261.5 478.4,268.7 478.6,266.8 478.7,267.9 478.9,269.8 479.0,266.5 479.2,269.3 479.4,266.5 479.5,268.7 479.7,266.7 479.8,268.3 480.0,270.7 480.2,266.5 480.3,266.5 480.5,267.1 480.6,268.6 480.8,273.7 481.0,266.8 481.1,263.5 481.3,266.5 481.4,264.6 481.6,266.7 481.8,268.0 481.9,266.0 482.1,266.6 482.2,264.1 482.4,268.3 482.6,266.5 482.7,270.4 482.9,270.2 483.0,259.9 483.2,267.3 483.4,268.1 483.5,269.6 483.7,264.5 483.8,267.8 484.0,271.9 484.2,267.9 484.3,268.5 484.5,268.1 484.6,259.2 484.8,270.1 485.0,268.6 485.1,268.3 485.3,269.6 485.4,269.7 485.6,264.0 485.8,269.2 485.9,266.9 486.1,268.3 486.2,266.5 486.4,266.1 486.6,269.9 486.7,268.0 486.9,267.4 487.0,267.4 487.2,268.0 487.4,267.9 487.5,262.9 487.7,265.8 487.8,267.2 488.0,269.3 488.2,270.6 488.3,265.6 488.5,271.7 488.6,260.6 488.8,268.5 489.0,266.3 489.1,266.0 489.3,270.2 489.4,266.7 489.6,267.0 489.8,269.6 489.9,270.5 490.1,263.6 490.2,266.1 490.4,266.4 490.6,270.2 490.7,271.4 490.9,265.8 491.0,266.3 491.2,258.8 491.4,267.4 491.5,264.1 491.7,265.9 491.8,262.2 492.0,257.8 492.2,259.7 492.3,262.2 492.5,262.7 492.6,256.1 492.8,255.8 493.0,258.7 493.1,253.1 493.3,256.9 493.4,254.3 493.6,250.0 493.8,254.6 493.9,251.6 494.1,253.9 494.2,251.7 494.4,250.6 494.6,250.8 494.7,251.6 494.9,251.7 495.0,251.9 495.2,251.0 495.4,254.5 495.5,254.6 495.7,259.3 495.8,257.5 496.0,257.5 496.2,257.8 496.3,260.9 496.5,260.4 496.6,259.8 496.8,265.2 497.0,266.1 497.1,262.4 497.3,261.3 497.4,266.4 497.6,256.0 497.8,270.5 497.9,264.6 498.1,267.2 498.2,262.6 498.4,265.1 498.6,267.5 498.7,259.6 498.9,263.9 499.0,270.2 499.2,266.2 499.4,264.1 499.5,263.1 499.7,263.5 499.8,266.6 500.0,261.6 500.2,263.0 500.3,260.9 500.5,265.2 500.6,262.0 500.8,258.9 501.0,263.4 501.1,261.3 501.3,264.0 501.4,265.0 501.6,260.9 501.8,265.2 501.9,270.7 502.1,263.8 502.2,266.2 502.4,262.4 502.6,266.6 502.7,264.6 502.9,267.8 503.0,266.3 503.2,264.3 503.4,262.1 503.5,266.6 503.7,265.1 503.8,267.5 504.0,265.4 504.2,268.4 504.3,261.2 504.5,266.9 504.6,269.2 504.8,265.1 505.0,269.9 505.1,263.6 505.3,271.4 505.4,268.4 505.6,267.3 505.8,266.4 505.9,269.3 506.1,267.7 506.2,267.6 506.4,270.2 506.6,267.2 506.7,267.6 506.9,269.0 507.0,270.4 507.2,267.8 507.4,268.5 507.5,268.2 507.7,269.7 507.8,261.9 508.0,266.2 508.2,267.9 508.3,268.0 508.5,269.5 508.6,271.4 508.8,268.1 509.0,268.7 509.1,270.6 509.3,265.5 509.4,266.6 509.6,267.3 509.8,268.2 509.9,268.7 510.1,267.2 510.2,272.0 510.4,266.8 510.6,267.9 510.7,270.6 510.9,269.9 511.0,268.2 511.2,273.1 511.4,270.0 511.5,258.7 511.7,269.6 511.8,266.3 512.0,268.5 512.2,264.7 512.3,266.4 512.5,260.0 512.6,271.0 512.8,267.3 513.0,268.9 513.1,266.3 513.3,267.9 513.4,267.7 513.6,266.5 513.8,270.1 513.9,264.7 514.1,269.6 514.2,274.0 514.4,259.0 514.6,268.3 514.7,264.9 514.9,268.1 515.0,264.5 515.2,262.8 515.4,267.1 515.5,264.3 515.7,265.4 515.8,264.7 516.0,259.2 516.2,270.0 516.3,267.4 516.5,265.7 516.6,266.4 516.8,268.5 517.0,263.0 517.1,269.4 517.3,269.0 517.4,263.0 517.6,270.7 517.8,264.6 517.9,267.6 518.1,270.6 518.2,264.6 518.4,264.2 518.6,265.7 518.7,265.8 518.9,267.8 519.0,266.9 519.2,267.0 519.4,267.0 519.5,267.7 519.7,266.2 519.8,268.7 520.0,268.0 520.2,265.9 520.3,272.0 520.5,265.2 520.6,269.6 520.8,266.4 521.0,268.8 521.1,269.1 521.3,269.8 521.4,271.0 521.6,266.1 521.8,274.1 521.9,268.8 522.1,259.7 522.2,264.9 522.4,273.0 522.6,271.5 522.7,267.9 522.9,269.5 523.0,270.6 523.2,268.1 523.4,266.8 523.5,267.7 523.7,269.5 523.8,267.7 524.0,264.8 524.2,268.9 524.3,263.6 524.5,265.5 524.6,269.7 524.8,267.3 525.0,267.1 525.1,266.5 525.3,268.3 525.4,269.8 525.6,261.5 525.8,265.5 525.9,256.8 526.1,260.1 526.2,267.2 526.4,265.6 526.6,262.1 526.7,262.4 526.9,262.4 527.0,264.0 527.2,259.7 527.4,259.8 527.5,259.7 527.7,261.4 527.8,261.7 528.0,260.9 528.2,263.4 528.3,260.3 528.5,262.3 528.6,261.8 528.8,261.7 529.0,266.7 529.1,258.0 529.3,262.9 529.4,265.7 529.6,263.8 529.8,267.6 529.9,268.2 530.1,269.0 530.2,264.7 530.4,266.9 530.6,271.4 530.7,267.2 530.9,270.6 531.0,271.2 531.2,265.2 531.4,270.8 531.5,269.9 531.7,270.4 531.8,272.2 532.0,269.6 532.2,268.9 532.3,270.1 532.5,268.0 532.6,269.9 532.8,264.5 533.0,272.6 533.1,261.8 533.3,270.3 533.4,269.7 533.6,269.3 533.8,269.3 533.9,269.3" stroke="#000" stroke-width="3.0"/>
<path d="M68.0,251.7L68.2,251.7 68.5,251.7 68.8,251.8 69.0,251.8 69.2,251.8 69.5,251.8 69.8,251.9 70.0,251.9 70.2,251.9 70.5,251.9 70.8,251.9 71.0,252.0 71.2,252.0 71.5,252.0 71.8,252.0 72.0,252.0 72.2,252.1 72.5,252.1 72.8,252.1 73.0,252.1 73.2,252.2 73.5,252.2 73.8,252.2 74.0,252.2 74.2,252.2 74.5,252.3 74.8,252.3 75.0,252.3 75.2,252.4 75.5,252.5 75.8,252.6 76.0,252.7 76.2,252.8 76.5,252.9 76.8,253.0 77.0,253.1 77.2,253.2 77.5,253.3 77.8,253.4 78.0,253.5 78.2,253.6 78.5,253.7 78.8,253.8 79.0,253.9 79.2,254.0 79.5,254.1 79.8,254.2 80.0,254.3 80.2,254.4 80.5,254.5 80.8,254.6 81.0,254.7 81.2,254.8 81.5,254.9 81.8,255.0 82.0,255.1 82.2,255.2 82.5,255.3 82.8,255.4 83.0,255.5 83.2,255.6 83.5,255.7 83.8,255.8 84.0,255.9 84.2,256.0 84.5,256.1 84.8,256.2 85.0,256.3 85.2,256.4 85.5,256.5 85.8,256.6 86.0,256.7 86.2,256.8 86.5,256.9 86.8,257.0 87.0,257.1 87.2,257.2 87.5,257.3 87.8,257.4 88.0,257.5 88.2,257.5 88.5,257.6 88.8,257.6 89.0,257.6 89.2,257.6 89.5,257.5 89.8,257.4 90.0,257.3 90.2,257.2 90.5,257.1 90.8,257.1 91.0,257.1 91.2,257.2 91.5,257.4 91.8,257.6 92.0,257.9 92.2,258.1 92.5,258.3 92.8,258.5 93.0,258.7 93.2,258.8 93.5,259.0 93.8,259.1 94.0,259.2 94.2,259.3 94.5,259.3 94.8,259.4 95.0,259.5 95.2,259.6 95.5,259.7 95.8,259.7 96.0,259.8 96.2,260.0 96.5,260.2 96.8,260.4 97.0,260.6 97.2,260.8 97.5,261.0 97.8,261.2 98.0,261.4 98.2,261.6 98.5,261.8 98.8,262.0 99.0,262.2 99.2,262.4 99.5,262.6 99.8,262.8 100.0,263.0 100.2,263.0 100.5,263.0 100.8,263.0 101.0,263.0 101.2,263.0 101.5,262.9 101.8,262.9 102.0,262.9 102.2,262.9 102.5,262.9 102.8,262.9 103.0,262.9 103.2,262.9 103.5,262.9 103.8,262.9 104.0,262.8 104.2,262.8 104.5,262.8 104.8,262.8 105.0,262.8 105.2,262.8 105.5,262.9 105.8,262.9 106.0,263.0 106.2,263.0 106.5,263.1 106.8,263.1 107.0,263.2 107.2,263.2 107.5,263.2 107.8,263.3 108.0,263.3 108.2,263.4 108.5,263.4 108.8,263.5 109.0,263.5 109.2,263.5 109.5,263.6 109.8,263.6 110.0,263.7 110.2,263.7 110.5,263.8 110.8,263.8 111.0,263.8 111.2,263.9 111.5,263.9 111.8,264.0 112.0,264.0 112.2,264.1 112.5,264.3 112.8,264.4 113.0,264.6 113.2,264.7 113.5,264.9 113.8,265.0 114.0,265.2 114.2,265.3 114.5,265.5 114.8,265.6 115.0,265.7 115.2,265.9 115.5,266.0 115.8,266.1 116.0,266.3 116.2,266.4 116.5,266.5 116.8,266.7 117.0,266.8 117.2,266.7 117.5,266.6 117.8,266.5 118.0,266.4 118.2,266.3 118.5,266.2 118.8,266.1 119.0,266.0 119.2,265.9 119.5,265.7 119.8,265.5 120.0,265.3 120.2,265.1 120.5,264.9 120.8,264.6 121.0,264.2 121.2,263.8 121.5,263.2 121.8,262.5 122.0,261.6 122.2,260.4 122.5,259.0 122.8,257.3 123.0,255.3 123.2,253.1 123.5,251.1 123.8,249.5 124.0,248.9 124.2,249.4 124.5,250.9 124.8,252.8 125.0,254.9 125.2,256.8 125.5,258.4 125.8,259.7 126.0,260.7 126.2,261.6 126.5,262.2 126.8,262.6 127.0,263.0 127.2,263.3 127.5,263.5 127.8,263.6 128.0,263.7 128.2,263.8 128.5,263.9 128.8,263.9 129.0,264.0 129.2,264.0 129.5,264.0 129.8,264.0 130.0,264.0 130.2,264.0 130.5,263.9 130.8,263.9 131.0,263.8 131.2,263.8 131.5,263.7 131.8,263.7 132.0,263.6 132.2,263.6 132.5,263.5 132.8,263.4 133.0,263.4 133.2,263.3 133.5,263.2 133.8,263.2 134.0,263.1 134.2,263.0 134.5,262.9 134.8,262.9 135.0,262.8 135.2,262.9 135.5,263.0 135.8,263.1 136.0,263.2 136.2,263.2 136.5,263.3 136.8,263.4 137.0,263.5 137.2,263.6 137.5,263.7 137.8,263.8 138.0,263.8 138.2,263.9 138.5,264.0 138.8,264.1 139.0,264.2 139.2,264.3 139.5,264.3 139.8,264.4 140.0,264.5 140.2,264.5 140.5,264.5 140.8,264.4 141.0,264.4 141.2,264.4 141.5,264.3 141.8,264.3 142.0,264.3 142.2,264.2 142.5,264.2 142.8,264.1 143.0,264.1 143.2,264.1 143.5,264.1 143.8,264.1 144.0,264.2 144.2,264.2 144.5,264.2 144.8,264.2 145.0,264.2 145.2,264.2 145.5,264.2 145.8,264.2 146.0,264.2 146.2,264.2 146.5,264.2 146.8,264.2 147.0,264.2 147.2,264.1 147.5,264.1 147.8,264.1 148.0,264.1 148.2,264.1 148.5,264.1 148.8,264.1 149.0,264.1 149.2,264.0 149.5,264.0 149.8,264.0 150.0,264.0 150.2,264.0 150.5,264.0 150.8,263.9 151.0,263.9 151.2,263.9 151.5,263.9 151.8,263.8 152.0,263.8 152.2,263.8 152.5,263.8 152.8,263.7 153.0,263.7 153.2,263.7 153.5,263.7 153.8,263.6 154.0,263.6 154.2,263.6 154.5,263.6 154.8,263.5 155.0,263.5 155.2,263.5 155.5,263.5 155.8,263.4 156.0,263.4 156.2,263.4 156.5,263.4 156.8,263.3 157.0,263.3 157.2,263.4 157.5,263.4 157.8,263.5 158.0,263.5 158.2,263.6 158.5,263.6 158.8,263.7 159.0,263.7 159.2,263.8 159.5,263.8 159.8,263.9 160.0,263.9 160.2,264.0 160.5,264.0 160.8,264.1 161.0,264.1 161.2,264.2 161.5,264.2 161.8,264.3 162.0,264.3 162.2,264.4 162.5,264.4 162.8,264.5 163.0,264.5 163.2,264.7 163.5,264.8 163.8,265.0 164.0,265.1 164.2,265.3 164.5,265.4 164.8,265.6 165.0,265.7 165.2,265.9 165.5,266.1 165.8,266.2 166.0,266.4 166.2,266.5 166.5,266.7 166.8,266.8 167.0,267.0 167.2,267.1 167.5,267.3 167.8,267.3 168.0,267.2 168.2,267.2 168.5,267.1 168.8,267.1 169.0,267.0 169.2,267.0 169.5,266.9 169.8,266.9 170.0,266.8 170.2,266.8 170.5,266.7 170.8,266.7 171.0,266.6 171.2,266.6 171.5,266.5 171.8,266.5 172.0,266.4 172.2,266.4 172.5,266.4 172.8,266.4 173.0,266.3 173.2,266.3 173.5,266.3 173.8,266.3 174.0,266.3 174.2,266.3 174.5,266.3 174.8,266.2 175.0,266.2 175.2,266.2 175.5,266.2 175.8,266.2 176.0,266.2 176.2,266.2 176.5,266.1 176.8,266.1 177.0,266.1 177.2,266.1 177.5,266.1 177.8,266.1 178.0,266.0 178.2,266.0 178.5,266.0 178.8,266.0 179.0,266.0 179.2,266.0 179.5,265.9 179.8,265.9 180.0,265.9 180.2,265.9 180.5,266.0 180.8,266.0 181.0,266.0 181.2,266.0 181.5,266.1 181.8,266.1 182.0,266.1 182.2,266.1 182.5,266.2 182.8,266.2 183.0,266.2 183.2,266.2 183.5,266.3 183.8,266.3 184.0,266.3 184.2,266.3 184.5,266.4 184.8,266.4 185.0,266.4 185.2,266.4 185.5,266.3 185.8,266.3 186.0,266.3 186.2,266.2 186.5,266.2 186.8,266.1 187.0,266.1 187.2,266.1 187.5,266.0 187.8,266.0 188.0,265.9 188.2,265.9 188.5,265.8 188.8,265.8 189.0,265.7 189.2,265.7 189.5,265.6 189.8,265.6 190.0,265.5 190.2,265.5 190.5,265.4 190.8,265.4 191.0,265.3 191.2,265.2 191.5,265.2 191.8,265.1 192.0,265.0 192.2,265.0 192.5,265.0 192.8,264.9 193.0,264.9 193.2,264.9 193.5,264.8 193.8,264.8 194.0,264.7 194.2,264.6 194.5,264.6 194.8,264.5 195.0,264.4 195.2,264.2 195.5,264.1 195.8,264.0 196.0,263.8 196.2,263.6 196.5,263.4 196.8,263.1 197.0,262.8 197.2,262.5 197.5,262.1 197.8,261.7 198.0,261.1 198.2,260.5 198.5,259.8 198.8,258.9 199.0,257.8 199.2,256.4 199.5,254.8 199.8,252.7 200.0,250.1 200.2,246.9 200.5,243.0 200.8,238.2 201.0,232.5 201.2,225.9 201.5,218.7 201.8,211.2 202.0,204.4 202.2,199.5 202.5,197.7 202.8,199.5 203.0,204.5 203.2,211.4 203.5,218.9 203.8,226.3 204.0,232.9 204.2,238.7 204.5,243.5 204.8,247.5 205.0,250.8 205.2,253.5 205.5,255.6 205.8,257.3 206.0,258.7 206.2,259.9 206.5,260.9 206.8,261.7 207.0,262.4 207.2,263.0 207.5,263.4 207.8,263.8 208.0,264.0 208.2,264.3 208.5,264.4 208.8,264.6 209.0,264.7 209.2,264.8 209.5,264.9 209.8,265.0 210.0,265.0 210.2,265.0 210.5,265.1 210.8,265.1 211.0,265.1 211.2,265.0 211.5,265.0 211.8,265.0 212.0,265.0 212.2,264.9 212.5,264.9 212.8,264.8 213.0,264.8 213.2,264.7 213.5,264.6 213.8,264.6 214.0,264.5 214.2,264.4 214.5,264.3 214.8,264.3 215.0,264.2 215.2,264.1 215.5,264.0 215.8,264.0 216.0,264.1 216.2,264.1 216.5,264.2 216.8,264.2 217.0,264.2 217.2,264.2 217.5,264.3 217.8,264.3 218.0,264.3 218.2,264.3 218.5,264.4 218.8,264.4 219.0,264.4 219.2,264.4 219.5,264.4 219.8,264.4 220.0,264.4 220.2,264.4 220.5,264.4 220.8,264.4 221.0,264.4 221.2,264.4 221.5,264.4 221.8,264.4 222.0,264.3 222.2,264.3 222.5,264.3 222.8,264.2 223.0,264.2 223.2,264.1 223.5,264.0 223.8,264.0 224.0,263.9 224.2,263.8 224.5,263.7 224.8,263.6 225.0,263.5 225.2,263.4 225.5,263.3 225.8,263.2 226.0,263.0 226.2,262.9 226.5,262.7 226.8,262.6 227.0,262.4 227.2,262.3 227.5,262.3 227.8,262.2 228.0,262.1 228.2,262.0 228.5,261.8 228.8,261.7 229.0,261.5 229.2,261.3 229.5,261.1 229.8,260.8 230.0,260.5 230.2,260.1 230.5,259.6 230.8,259.0 231.0,258.5 231.2,257.8 231.5,257.1 231.8,256.3 232.0,255.5 232.2,254.5 232.5,253.5 232.8,252.3 233.0,251.0 233.2,249.6 233.5,248.0 233.8,246.2 234.0,244.2 234.2,241.9 234.5,239.4 234.8,236.5 235.0,233.2 235.2,229.4 235.5,225.0 235.8,219.9 236.0,213.8 236.2,206.3 236.5,196.7 236.8,183.8 237.0,165.6 237.2,138.8 237.5,99.6 237.8,52.8 238.0,28.1 238.2,52.8 238.5,99.8 238.8,139.0 239.0,166.0 239.2,184.2 239.5,197.2 239.8,206.9 240.0,214.5 240.2,220.7 240.5,225.9 240.8,230.3 241.0,234.2 241.2,237.6 241.5,240.5 241.8,243.2 242.0,245.5 242.2,247.6 242.5,249.5 242.8,251.1 243.0,252.6 243.2,254.0 243.5,255.2 243.8,256.3 244.0,257.3 244.2,258.2 244.5,259.0 244.8,259.7 245.0,260.3 245.2,260.9 245.5,261.2 245.8,261.5 246.0,261.6 246.2,261.6 246.5,261.5 246.8,261.1 247.0,260.6 247.2,259.9 247.5,259.0 247.8,258.0 248.0,257.0 248.2,256.4 248.5,256.5 248.8,257.2 249.0,258.4 249.2,259.7 249.5,261.0 249.8,262.0 250.0,262.9 250.2,263.6 250.5,264.1 250.8,264.5 251.0,264.8 251.2,265.1 251.5,265.3 251.8,265.4 252.0,265.5 252.2,265.7 252.5,265.9 252.8,266.0 253.0,266.2 253.2,266.3 253.5,266.4 253.8,266.5 254.0,266.6 254.2,266.7 254.5,266.8 254.8,266.9 255.0,267.0 255.2,267.1 255.5,267.2 255.8,267.2 256.0,267.2 256.2,267.3 256.5,267.3 256.8,267.3 257.0,267.3 257.2,267.3 257.5,267.3 257.8,267.3 258.0,267.3 258.2,267.3 258.5,267.4 258.8,267.4 259.0,267.5 259.2,267.5 259.5,267.5 259.8,267.6 260.0,267.6 260.2,267.6 260.5,267.6 260.8,267.7 261.0,267.7 261.2,267.7 261.5,267.8 261.8,267.8 262.0,267.8 262.2,267.8 262.5,267.7 262.8,267.7 263.0,267.6 263.2,267.6 263.5,267.5 263.8,267.5 264.0,267.4 264.2,267.4 264.5,267.3 264.8,267.2 265.0,267.2 265.2,267.1 265.5,267.1 265.8,267.0 266.0,267.0 266.2,266.9 266.5,266.9 266.8,266.8 267.0,266.7 267.2,266.7 267.5,266.6 267.8,266.6 268.0,266.5 268.2,266.4 268.5,266.4 268.8,266.3 269.0,266.2 269.2,266.1 269.5,266.1 269.8,266.0 270.0,265.9 270.2,265.8 270.5,265.7 270.8,265.7 271.0,265.6 271.2,265.5 271.5,265.4 271.8,265.3 272.0,265.3 272.2,265.2 272.5,265.1 272.8,265.0 273.0,264.9 273.2,264.9 273.5,264.8 273.8,264.7 274.0,264.6 274.2,264.7 274.5,264.8 274.8,264.9 275.0,265.0 275.2,265.1 275.5,265.2 275.8,265.3 276.0,265.4 276.2,265.5 276.5,265.6 276.8,265.7 277.0,265.8 277.2,265.9 277.5,266.0 277.8,266.1 278.0,266.2 278.2,266.3 278.5,266.3 278.8,266.4 279.0,266.5 279.2,266.7 279.5,266.8 279.8,266.9 280.0,267.1 280.2,267.2 280.5,267.4 280.8,267.5 281.0,267.6 281.2,267.7 281.5,267.8 281.8,267.9 282.0,268.0 282.2,268.1 282.5,268.1 282.8,268.2 283.0,268.2 283.2,268.0 283.5,267.7 283.8,267.5 284.0,267.2 284.2,266.8 284.5,266.4 284.8,266.0 285.0,265.4 285.2,264.8 285.5,264.1 285.8,263.2 286.0,262.1 286.2,260.7 286.5,259.0 286.8,256.9 287.0,254.2 287.2,250.8 287.5,246.6 287.8,241.4 288.0,235.2 288.2,228.4 288.5,221.8 288.8,216.7 289.0,214.8 289.2,216.7 289.5,221.7 289.8,228.3 290.0,235.0 290.2,241.1 290.5,246.3 290.8,250.5 291.0,253.8 291.2,256.5 291.5,258.6 291.8,260.2 292.0,261.5 292.2,262.6 292.5,263.4 292.8,264.1 293.0,264.7 293.2,265.2 293.5,265.6 293.8,265.9 294.0,266.2 294.2,266.5 294.5,266.7 294.8,266.9 295.0,267.1 295.2,267.3 295.5,267.4 295.8,267.5 296.0,267.6 296.2,267.7 296.5,267.8 296.8,267.9 297.0,268.0 297.2,268.0 297.5,268.1 297.8,268.1 298.0,268.2 298.2,268.2 298.5,268.2 298.8,268.3 299.0,268.3 299.2,268.3 299.5,268.4 299.8,268.4 300.0,268.4 300.2,268.4 300.5,268.4 300.8,268.5 301.0,268.5 301.2,268.5 301.5,268.5 301.8,268.5 302.0,268.5 302.2,268.5 302.5,268.5 302.8,268.5 303.0,268.5 303.2,268.5 303.5,268.5 303.8,268.5 304.0,268.5 304.2,268.5 304.5,268.5 304.8,268.5 305.0,268.5 305.2,268.5 305.5,268.5 305.8,268.5 306.0,268.5 306.2,268.5 306.5,268.5 306.8,268.5 307.0,268.5 307.2,268.5 307.5,268.5 307.8,268.5 308.0,268.5 308.2,268.5 308.5,268.5 308.8,268.4 309.0,268.4 309.2,268.4 309.5,268.4 309.8,268.4 310.0,268.4 310.2,268.4 310.5,268.5 310.8,268.5 311.0,268.6 311.2,268.6 311.5,268.6 311.8,268.7 312.0,268.7 312.2,268.7 312.5,268.8 312.8,268.8 313.0,268.8 313.2,268.8 313.5,268.8 313.8,268.8 314.0,268.7 314.2,268.7 314.5,268.6 314.8,268.5 315.0,268.3 315.2,268.2 315.5,268.0 315.8,267.9 316.0,267.9 316.2,268.0 316.5,268.2 316.8,268.4 317.0,268.6 317.2,268.8 317.5,269.0 317.8,269.2 318.0,269.4 318.2,269.5 318.5,269.6 318.8,269.6 319.0,269.7 319.2,269.8 319.5,269.8 319.8,269.9 320.0,269.9 320.2,269.9 320.5,269.9 320.8,269.9 321.0,269.9 321.2,269.8 321.5,269.8 321.8,269.8 322.0,269.7 322.2,269.6 322.5,269.5 322.8,269.3 323.0,269.1 323.2,268.9 323.5,268.6 323.8,268.3 324.0,268.1 324.2,267.9 324.5,267.9 324.8,268.0 325.0,268.3 325.2,268.6 325.5,268.8 325.8,269.1 326.0,269.3 326.2,269.5 326.5,269.6 326.8,269.7 327.0,269.8 327.2,269.8 327.5,269.9 327.8,269.9 328.0,269.9 328.2,269.9 328.5,270.0 328.8,270.0 329.0,270.0 329.2,270.0 329.5,270.0 329.8,270.0 330.0,270.0 330.2,270.0 330.5,269.9 330.8,269.9 331.0,269.9 331.2,269.9 331.5,269.8 331.8,269.8 332.0,269.8 332.2,269.8 332.5,269.7 332.8,269.7 333.0,269.7 333.2,269.6 333.5,269.6 333.8,269.6 334.0,269.6 334.2,269.5 334.5,269.5 334.8,269.5 335.0,269.4 335.2,269.4 335.5,269.4 335.8,269.3 336.0,269.3 336.2,269.3 336.5,269.2 336.8,269.2 337.0,269.2 337.2,269.2 337.5,269.1 337.8,269.1 338.0,269.1 338.2,269.0 338.5,269.0 338.8,269.0 339.0,268.9 339.2,268.9 339.5,268.9 339.8,268.8 340.0,268.8 340.2,268.8 340.5,268.7 340.8,268.7 341.0,268.6 341.2,268.6 341.5,268.5 341.8,268.5 342.0,268.4 342.2,268.4 342.5,268.3 342.8,268.3 343.0,268.2 343.2,268.2 343.5,268.1 343.8,268.1 344.0,268.0 344.2,268.0 344.5,267.9 344.8,267.9 345.0,267.8 345.2,267.8 345.5,267.7 345.8,267.7 346.0,267.6 346.2,267.5 346.5,267.5 346.8,267.4 347.0,267.4 347.2,267.3 347.5,267.3 347.8,267.2 348.0,267.1 348.2,267.1 348.5,267.0 348.8,267.0 349.0,266.9 349.2,266.8 349.5,266.7 349.8,266.7 350.0,266.6 350.2,266.5 350.5,266.4 350.8,266.4 351.0,266.3 351.2,266.2 351.5,266.1 351.8,266.0 352.0,265.9 352.2,265.8 352.5,265.6 352.8,265.5 353.0,265.3 353.2,265.2 353.5,265.0 353.8,264.8 354.0,264.5 354.2,264.2 354.5,263.9 354.8,263.5 355.0,262.9 355.2,262.2 355.5,261.3 355.8,260.1 356.0,258.6 356.2,256.9 356.5,254.8 356.8,252.4 357.0,250.0 357.2,247.7 357.5,245.9 357.8,245.0 358.0,245.4 358.2,246.8 358.5,248.9 358.8,251.2 359.0,253.6 359.2,255.7 359.5,257.5 359.8,259.0 360.0,260.1 360.2,261.0 360.5,261.6 360.8,262.0 361.0,262.3 361.2,262.4 361.5,262.5 361.8,262.5 362.0,262.5 362.2,262.5 362.5,262.6 362.8,262.7 363.0,262.9 363.2,263.2 363.5,263.4 363.8,263.7 364.0,263.9 364.2,264.1 364.5,264.3 364.8,264.5 365.0,264.6 365.2,264.8 365.5,264.9 365.8,264.9 366.0,265.0 366.2,265.2 366.5,265.3 366.8,265.4 367.0,265.6 367.2,265.7 367.5,265.8 367.8,265.9 368.0,266.0 368.2,266.1 368.5,266.2 368.8,266.3 369.0,266.4 369.2,266.5 369.5,266.5 369.8,266.6 370.0,266.7 370.2,266.7 370.5,266.8 370.8,266.8 371.0,266.9 371.2,266.9 371.5,267.0 371.8,267.0 372.0,267.0 372.2,267.1 372.5,267.1 372.8,267.1 373.0,267.2 373.2,267.2 373.5,267.1 373.8,267.1 374.0,267.1 374.2,267.0 374.5,266.9 374.8,266.8 375.0,266.6 375.2,266.4 375.5,266.1 375.8,265.8 376.0,265.4 376.2,264.7 376.5,263.9 376.8,263.0 377.0,261.9 377.2,260.6 377.5,259.1 377.8,257.2 378.0,255.0 378.2,252.4 378.5,249.2 378.8,245.5 379.0,241.0 379.2,235.8 379.5,230.0 379.8,223.6 380.0,217.1 380.2,211.2 380.5,206.7 380.8,204.7 381.0,205.5 381.2,208.9 381.5,214.3 381.8,220.5 382.0,226.9 382.2,232.9 382.5,238.3 382.8,242.9 383.0,246.8 383.2,250.1 383.5,252.8 383.8,255.1 384.0,256.9 384.2,258.5 384.5,259.7 384.8,260.8 385.0,261.7 385.2,262.4 385.5,263.0 385.8,263.5 386.0,264.0 386.2,264.4 386.5,264.7 386.8,265.0 387.0,265.3 387.2,265.5 387.5,265.7 387.8,265.9 388.0,266.0 388.2,266.2 388.5,266.3 388.8,266.4 389.0,266.5 389.2,266.6 389.5,266.7 389.8,266.8 390.0,266.9 390.2,266.9 390.5,267.0 390.8,267.0 391.0,267.1 391.2,267.1 391.5,267.1 391.8,267.2 392.0,267.2 392.2,267.2 392.5,267.2 392.8,267.2 393.0,267.2 393.2,267.2 393.5,267.2 393.8,267.2 394.0,267.2 394.2,267.2 394.5,267.2 394.8,267.2 395.0,267.2 395.2,267.2 395.5,267.2 395.8,267.2 396.0,267.3 396.2,267.3 396.5,267.3 396.8,267.3 397.0,267.3 397.2,267.3 397.5,267.3 397.8,267.3 398.0,267.3 398.2,267.3 398.5,267.3 398.8,267.3 399.0,267.3 399.2,267.2 399.5,267.2 399.8,267.2 400.0,267.2 400.2,267.2 400.5,267.2 400.8,267.3 401.0,267.3 401.2,267.3 401.5,267.3 401.8,267.3 402.0,267.3 402.2,267.3 402.5,267.3 402.8,267.3 403.0,267.3 403.2,267.3 403.5,267.3 403.8,267.3 404.0,267.3 404.2,267.3 404.5,267.3 404.8,267.2 405.0,267.2 405.2,267.1 405.5,267.1 405.8,267.0 406.0,266.9 406.2,266.8 406.5,266.7 406.8,266.6 407.0,266.5 407.2,266.4 407.5,266.3 407.8,266.1 408.0,266.0 408.2,265.8 408.5,265.7 408.8,265.5 409.0,265.3 409.2,265.1 409.5,264.9 409.8,264.7 410.0,264.4 410.2,264.1 410.5,263.9 410.8,263.6 411.0,263.2 411.2,262.8 411.5,262.4 411.8,262.0 412.0,261.5 412.2,261.0 412.5,260.4 412.8,259.7 413.0,258.9 413.2,258.1 413.5,257.2 413.8,256.1 414.0,254.9 414.2,253.5 414.5,251.9 414.8,250.1 415.0,248.0 415.2,245.6 415.5,242.7 415.8,239.3 416.0,235.3 416.2,230.7 416.5,225.2 416.8,218.9 417.0,211.8 417.2,203.9 417.5,195.8 417.8,188.0 418.0,181.7 418.2,177.9 418.5,177.6 418.8,180.8 419.0,186.7 419.2,194.3 419.5,202.5 419.8,210.5 420.0,217.9 420.2,224.4 420.5,230.1 420.8,234.9 421.0,239.1 421.2,242.6 421.5,245.7 421.8,248.3 422.0,250.5 422.2,252.4 422.5,254.1 422.8,255.5 423.0,256.8 423.2,258.0 423.5,259.0 423.8,259.9 424.0,260.7 424.2,261.4 424.5,262.1 424.8,262.7 425.0,263.3 425.2,263.8 425.5,264.3 425.8,264.7 426.0,265.1 426.2,265.4 426.5,265.8 426.8,266.1 427.0,266.4 427.2,266.7 427.5,266.9 427.8,267.2 428.0,267.4 428.2,267.6 428.5,267.8 428.8,268.0 429.0,268.2 429.2,268.3 429.5,268.5 429.8,268.7 430.0,268.8 430.2,268.8 430.5,268.9 430.8,268.9 431.0,268.9 431.2,269.0 431.5,269.0 431.8,269.0 432.0,269.0 432.2,269.0 432.5,269.0 432.8,269.0 433.0,269.0 433.2,269.0 433.5,268.9 433.8,268.9 434.0,268.9 434.2,268.9 434.5,268.9 434.8,268.8 435.0,268.8 435.2,268.8 435.5,268.8 435.8,268.9 436.0,268.9 436.2,268.9 436.5,268.9 436.8,268.9 437.0,268.9 437.2,268.8 437.5,268.8 437.8,268.8 438.0,268.7 438.2,268.6 438.5,268.6 438.8,268.5 439.0,268.4 439.2,268.4 439.5,268.3 439.8,268.3 440.0,268.3 440.2,268.4 440.5,268.5 440.8,268.6 441.0,268.6 441.2,268.7 441.5,268.8 441.8,268.8 442.0,268.9 442.2,268.9 442.5,268.9 442.8,268.9 443.0,268.9 443.2,268.9 443.5,268.9 443.8,268.9 444.0,268.9 444.2,268.8 444.5,268.8 444.8,268.7 445.0,268.7 445.2,268.6 445.5,268.6 445.8,268.5 446.0,268.5 446.2,268.5 446.5,268.5 446.8,268.6 447.0,268.6 447.2,268.7 447.5,268.7 447.8,268.8 448.0,268.8 448.2,268.8 448.5,268.8 448.8,268.9 449.0,268.9 449.2,268.9 449.5,268.9 449.8,268.9 450.0,268.9 450.2,268.9 450.5,268.9 450.8,268.8 451.0,268.8 451.2,268.8 451.5,268.8 451.8,268.8 452.0,268.8 452.2,268.8 452.5,268.8 452.8,268.8 453.0,268.8 453.2,268.8 453.5,268.8 453.8,268.8 454.0,268.8 454.2,268.8 454.5,268.8 454.8,268.8 455.0,268.8 455.2,268.8 455.5,268.8 455.8,268.8 456.0,268.8 456.2,268.8 456.5,268.8 456.8,268.8 457.0,268.8 457.2,268.8 457.5,268.8 457.8,268.8 458.0,268.8 458.2,268.8 458.5,268.8 458.8,268.8 459.0,268.8 459.2,268.8 459.5,268.8 459.8,268.8 460.0,268.8 460.2,268.8 460.5,268.8 460.8,268.8 461.0,268.8 461.2,268.8 461.5,268.8 461.8,268.8 462.0,268.8 462.2,268.9 462.5,268.9 462.8,268.9 463.0,268.9 463.2,268.9 463.5,268.9 463.8,268.9 464.0,268.9 464.2,268.9 464.5,268.9 464.8,268.9 465.0,268.9 465.2,268.9 465.5,268.9 465.8,268.9 466.0,268.9 466.2,268.9 466.5,268.9 466.8,268.9 467.0,268.8 467.2,268.8 467.5,268.8 467.8,268.8 468.0,268.8 468.2,268.8 468.5,268.8 468.8,268.8 469.0,268.8 469.2,268.7 469.5,268.7 469.8,268.7 470.0,268.6 470.2,268.6 470.5,268.5 470.8,268.4 471.0,268.3 471.2,268.1 471.5,267.9 471.8,267.7 472.0,267.3 472.2,267.0 472.5,266.5 472.8,266.0 473.0,265.4 473.2,264.8 473.5,264.2 473.8,263.6 474.0,263.1 474.2,262.7 474.5,262.6 474.8,262.8 475.0,263.1 475.2,263.7 475.5,264.3 475.8,265.0 476.0,265.7 476.2,266.3 476.5,266.9 476.8,267.3 477.0,267.8 477.2,268.1 477.5,268.4 477.8,268.7 478.0,268.9 478.2,269.0 478.5,269.2 478.8,269.3 479.0,269.4 479.2,269.5 479.5,269.6 479.8,269.6 480.0,269.7 480.2,269.7 480.5,269.8 480.8,269.8 481.0,269.8 481.2,269.8 481.5,269.8 481.8,269.9 482.0,269.9 482.2,269.9 482.5,269.9 482.8,269.9 483.0,269.9 483.2,269.9 483.5,269.9 483.8,269.9 484.0,269.9 484.2,269.9 484.5,269.9 484.8,269.9 485.0,269.9 485.2,269.9 485.5,269.9 485.8,269.9 486.0,269.9 486.2,269.9 486.5,269.8 486.8,269.8 487.0,269.8 487.2,269.8 487.5,269.8 487.8,269.7 488.0,269.7 488.2,269.7 488.5,269.6 488.8,269.6 489.0,269.5 489.2,269.4 489.5,269.4 489.8,269.3 490.0,269.2 490.2,269.0 490.5,268.9 490.8,268.7 491.0,268.4 491.2,268.1 491.5,267.8 491.8,267.3 492.0,266.8 492.2,266.2 492.5,265.5 492.8,264.6 493.0,263.7 493.2,262.7 493.5,261.7 493.8,260.7 494.0,259.9 494.2,259.3 494.5,259.1 494.8,259.3 495.0,259.9 495.2,260.7 495.5,261.6 495.8,262.7 496.0,263.6 496.2,264.6 496.5,265.4 496.8,266.1 497.0,266.7 497.2,267.2 497.5,267.6 497.8,268.0 498.0,268.2 498.2,268.4 498.5,268.6 498.8,268.7 499.0,268.8 499.2,268.8 499.5,268.9 499.8,268.9 500.0,268.9 500.2,268.9 500.5,268.9 500.8,268.9 501.0,268.9 501.2,269.0 501.5,269.0 501.8,269.1 502.0,269.2 502.2,269.3 502.5,269.4 502.8,269.4 503.0,269.5 503.2,269.5 503.5,269.6 503.8,269.6 504.0,269.6 504.2,269.6 504.5,269.6 504.8,269.7 505.0,269.7 505.2,269.7 505.5,269.7 505.8,269.7 506.0,269.7 506.2,269.7 506.5,269.7 506.8,269.7 507.0,269.7 507.2,269.7 507.5,269.7 507.8,269.7 508.0,269.7 508.2,269.7 508.5,269.7 508.8,269.7 509.0,269.7 509.2,269.7 509.5,269.7 509.8,269.7 510.0,269.7 510.2,269.7 510.5,269.7 510.8,269.7 511.0,269.7 511.2,269.7 511.5,269.7 511.8,269.7 512.0,269.7 512.2,269.7 512.5,269.7 512.8,269.7 513.0,269.7 513.2,269.7 513.5,269.7 513.8,269.7 514.0,269.7 514.2,269.7 514.5,269.7 514.8,269.7 515.0,269.7 515.2,269.7 515.5,269.7 515.8,269.7 516.0,269.7 516.2,269.7 516.5,269.7 516.8,269.7 517.0,269.7 517.2,269.7 517.5,269.7 517.8,269.8 518.0,269.8 518.2,269.8 518.5,269.8 518.8,269.8 519.0,269.8 519.2,269.8 519.5,269.8 519.8,269.8 520.0,269.8 520.2,269.8 520.5,269.8 520.8,269.7 521.0,269.7 521.2,269.7 521.5,269.7 521.8,269.7 522.0,269.7 522.2,269.7 522.5,269.7 522.8,269.7 523.0,269.7 523.2,269.6 523.5,269.6 523.8,269.6 524.0,269.5 524.2,269.4 524.5,269.3 524.8,269.2 525.0,269.0 525.2,268.8 525.5,268.5 525.8,268.3 526.0,267.9 526.2,267.6 526.5,267.2 526.8,266.8 527.0,266.5 527.2,266.2 527.5,266.1 527.8,266.1 528.0,266.3 528.2,266.6 528.5,267.0 528.8,267.5 529.0,267.9 529.2,268.3 529.5,268.6 529.8,269.0 530.0,269.3 530.2,269.5 530.5,269.7 530.8,269.9 531.0,270.0 531.2,270.1 531.5,270.2 531.8,270.3 532.0,270.4 532.2,270.5 532.5,270.5 532.8,270.6 533.0,270.6 533.2,270.7 533.5,270.7 533.8,270.8 534.0,270.8" stroke="#ff0000" stroke-width="2.2"/>
</g>
<g fill="#0000ff"><rect x="123.00" y="291" width="2.00" height="14.6"/><rect x="142.06" y="291" width="2.09" height="14.6"/><rect x="201.33" y="291" width="2.35" height="14.6"/><rect x="236.95" y="291" width="2.51" height="14.6"/><rect x="247.62" y="291" width="2.56" height="14.6"/><rect x="287.93" y="291" width="2.74" height="14.6"/><rect x="314.57" y="291" width="2.86" height="14.6"/><rect x="323.35" y="291" width="2.89" height="14.6"/><rect x="356.38" y="291" width="3.04" height="14.6"/><rect x="379.43" y="291" width="3.15" height="14.6"/><rect x="417.24" y="291" width="3.31" height="14.6"/><rect x="438.50" y="291" width="3.41" height="14.6"/><rect x="445.18" y="291" width="3.44" height="14.6"/><rect x="473.02" y="291" width="3.56" height="14.6"/><rect x="492.97" y="291" width="3.65" height="14.6"/><rect x="499.76" y="291" width="3.68" height="14.6"/><rect x="525.8" y="291" width="4" height="14.6" fill="#3c3cff"/></g>
<g stroke="#000"><line x1="67.8" y1="9.0" x2="534" y2="9.0" stroke-width="1.8"/><line x1="67.8" y1="380.0" x2="534" y2="380.0" stroke-width="2.1"/><line x1="68.6" y1="8" x2="68.6" y2="381" stroke-width="1.7"/><line x1="533.2" y1="8" x2="533.2" y2="381" stroke-width="2" stroke="#151515"/></g>
<g stroke="#000" stroke-width="1.5"><line x1="68.7" y1="380" x2="68.7" y2="387"/><line x1="101.8" y1="380" x2="101.8" y2="384"/><line x1="135.0" y1="380" x2="135.0" y2="387"/><line x1="168.1" y1="380" x2="168.1" y2="384"/><line x1="201.3" y1="380" x2="201.3" y2="387"/><line x1="234.4" y1="380" x2="234.4" y2="384"/><line x1="267.6" y1="380" x2="267.6" y2="387"/><line x1="300.7" y1="380" x2="300.7" y2="384"/><line x1="333.8" y1="380" x2="333.8" y2="387"/><line x1="367.0" y1="380" x2="367.0" y2="384"/><line x1="400.1" y1="380" x2="400.1" y2="387"/><line x1="433.3" y1="380" x2="433.3" y2="384"/><line x1="466.4" y1="380" x2="466.4" y2="387"/><line x1="499.6" y1="380" x2="499.6" y2="384"/><line x1="532.7" y1="380" x2="532.7" y2="387"/></g>
<g font-family="Liberation Sans, Arial, sans-serif" font-weight="bold" font-size="23" text-anchor="middle"><text x="68.7" y="410.6">10</text><text x="135.0" y="410.6">20</text><text x="201.3" y="410.6">30</text><text x="267.6" y="410.6">40</text><text x="333.8" y="410.6">50</text><text x="400.1" y="410.6">60</text><text x="466.4" y="410.6">70</text><text x="532.7" y="410.6">80</text></g>
<text x="301.2" y="459.9" font-family="Liberation Sans, Arial, sans-serif" font-weight="bold" font-size="32.4" text-anchor="middle">2θ (degree)</text>
<text transform="translate(32.8,194.6) rotate(-90)" font-family="Liberation Sans, Arial, sans-serif" font-weight="bold" font-size="32.4" text-anchor="middle">Intensity (a.u.)</text>
<g font-family="Liberation Serif, Times New Roman, serif" font-weight="bold" font-size="16" stroke="#000" stroke-width="0.28"><text x="115.2" y="234.8">101</text><text x="189.9" y="190.9">110</text><text x="242.6" y="32.9">021</text><text x="243.9" y="235.6">202</text><text x="281.7" y="200.9">024</text><text x="344.6" y="228.2">214</text><text x="371.7" y="185.8">303</text><text x="422.0" y="170.6">220</text><text x="452.8" y="249.1">134</text><text x="482.1" y="243.6">0111</text><text x="505.4" y="258.7">404</text></g>
<rect x="355.5" y="11.6" width="166.8" height="133.4" fill="#fff" stroke="#555" stroke-width="1.2"/>
<line x1="357.5" y1="27.2" x2="411" y2="27.2" stroke="#000" stroke-width="3"/>
<line x1="357.5" y1="60.7" x2="411" y2="60.7" stroke="#ff0000" stroke-width="1.6"/>
<line x1="357.5" y1="95.2" x2="409" y2="95.2" stroke="#ff66ff" stroke-width="1.4"/>
<line x1="384.4" y1="116" x2="384.4" y2="141.6" stroke="#0000ff" stroke-width="2"/>
<g font-family="Liberation Sans, Arial, sans-serif">
<text x="410.5" y="35" font-size="23">Y</text><text x="426" y="42.3" font-size="16.3">Obs.</text>
<text x="410.5" y="68.9" font-size="23">Y</text><text x="426" y="75.5" font-size="16.3">Calc.</text>
<text x="410.5" y="103.6" font-size="23">Y</text><text x="426" y="110" font-size="16.3">Obs.</text><text x="460" y="103.6" font-size="23">-Y</text><text x="483" y="110" font-size="16.3">Calc.</text>
<text x="411" y="137.2" font-size="23">Std. data</text>
</g>
</svg></body></html>
